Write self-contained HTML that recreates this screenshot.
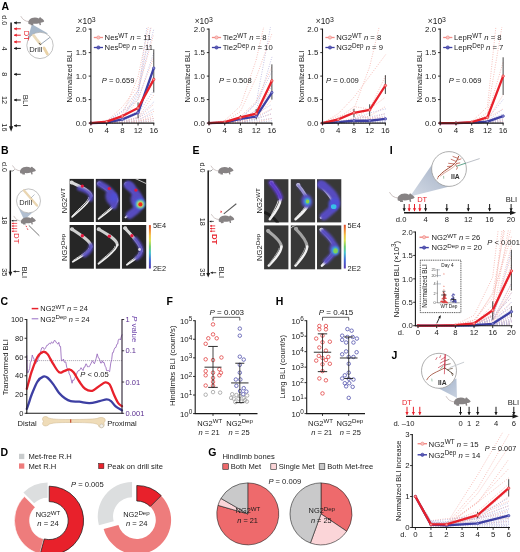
<!DOCTYPE html>
<html><head><meta charset="utf-8"><title>Figure</title>
<style>
html,body{margin:0;padding:0;background:#ffffff;}
body{width:520px;height:552px;overflow:hidden;}
svg{display:block;font-family:"Liberation Sans",sans-serif;}
</style></head><body>
<svg width="520" height="552" viewBox="0 0 520 552">
<rect x="0" y="0" width="520" height="552" fill="#ffffff"/>
<text x="1.6" y="9.6" font-size="10.5" text-anchor="start" fill="#000" font-weight="bold" font-style="normal">A</text>
<line x1="11.10" y1="22.50" x2="11.10" y2="127.50" stroke="#1a1a1a" stroke-width="1.5"/>
<polygon points="11.1,131.8 9,126.2 13.2,126.2" fill="#1a1a1a"/>
<text x="1.7" y="20.3" font-size="7.3" text-anchor="middle" fill="#1a1a1a" font-weight="normal" font-style="normal" transform="rotate(90 1.7 20.3)">d.0</text>
<text x="1.7" y="48.6" font-size="7.3" text-anchor="middle" fill="#1a1a1a" font-weight="normal" font-style="normal" transform="rotate(90 1.7 48.6)">4</text>
<text x="1.7" y="74.3" font-size="7.3" text-anchor="middle" fill="#1a1a1a" font-weight="normal" font-style="normal" transform="rotate(90 1.7 74.3)">8</text>
<text x="1.7" y="100" font-size="7.3" text-anchor="middle" fill="#1a1a1a" font-weight="normal" font-style="normal" transform="rotate(90 1.7 100)">12</text>
<text x="1.7" y="127.4" font-size="7.3" text-anchor="middle" fill="#1a1a1a" font-weight="normal" font-style="normal" transform="rotate(90 1.7 127.4)">16</text>
<line x1="20.80" y1="22.80" x2="14.00" y2="22.80" stroke="#1a1a1a" stroke-width="1.0"/>
<polygon points="14.00,22.80 16.77,21.20 16.77,24.40" fill="#1a1a1a"/>
<line x1="20.80" y1="28.80" x2="14.00" y2="28.80" stroke="#e8212b" stroke-width="1.0"/>
<polygon points="14.00,28.80 16.77,27.20 16.77,30.40" fill="#e8212b"/>
<line x1="20.80" y1="35.20" x2="14.00" y2="35.20" stroke="#e8212b" stroke-width="1.0"/>
<polygon points="14.00,35.20 16.77,33.60 16.77,36.80" fill="#e8212b"/>
<line x1="20.80" y1="41.90" x2="14.00" y2="41.90" stroke="#e8212b" stroke-width="1.0"/>
<polygon points="14.00,41.90 16.77,40.30 16.77,43.50" fill="#e8212b"/>
<line x1="20.80" y1="48.40" x2="14.00" y2="48.40" stroke="#1a1a1a" stroke-width="1.0"/>
<polygon points="14.00,48.40 16.77,46.80 16.77,50.00" fill="#1a1a1a"/>
<line x1="20.80" y1="74.30" x2="14.00" y2="74.30" stroke="#1a1a1a" stroke-width="1.0"/>
<polygon points="14.00,74.30 16.77,72.70 16.77,75.90" fill="#1a1a1a"/>
<line x1="20.80" y1="100.00" x2="14.00" y2="100.00" stroke="#1a1a1a" stroke-width="1.0"/>
<polygon points="14.00,100.00 16.77,98.40 16.77,101.60" fill="#1a1a1a"/>
<line x1="20.80" y1="125.70" x2="14.00" y2="125.70" stroke="#1a1a1a" stroke-width="1.0"/>
<polygon points="14.00,125.70 16.77,124.10 16.77,127.30" fill="#1a1a1a"/>
<text x="23.2" y="100.7" font-size="7.8" text-anchor="middle" fill="#1a1a1a" font-weight="normal" font-style="normal" transform="rotate(90 23.2 100.7)">BLI</text>
<polygon points="32,24.2 27.6,38.5 48,33.6" fill="#9fb2c6" opacity="0.92"/>
<circle cx="40" cy="45.4" r="13.2" fill="#ffffff" stroke="#a8a8a8" stroke-width="0.7"/>
<path d="M33.6,35.4 L37,40 L40.4,44" fill="none" stroke="#ecdcbc" stroke-width="2.8" stroke-linecap="round"/>
<path d="M44,48 L47.4,54" fill="none" stroke="#ead3a8" stroke-width="2.8" stroke-linecap="round"/>
<line x1="40.60" y1="44.40" x2="49.90" y2="37.40" stroke="#6f7f95" stroke-width="0.7"/>
<line x1="40.80" y1="44.60" x2="38.80" y2="43.20" stroke="#444" stroke-width="1.0"/>
<text x="29.2" y="52.1" font-size="7.6" text-anchor="start" fill="#2a2a2a" font-weight="normal" font-style="normal">Drill</text>
<text x="23.6" y="35.7" font-size="7.8" text-anchor="middle" fill="#e8212b" font-weight="normal" font-style="normal" transform="rotate(90 23.6 35.7)">DT</text>
<g transform="translate(27.6,25.3) scale(0.9166666666666666,0.9166666666666666)"><path d="M-7.2,-9.6 C-5.5,-6.5 -3,-4.2 1.6,-4" fill="none" stroke="#b9abaa" stroke-width="0.75" stroke-linecap="round"/><path d="M0.9,-1.8 C0.2,-4.2 1.6,-6.8 4.6,-8 C7.4,-9 10.2,-8.7 12.4,-7.4 C12.8,-8.9 14.4,-9.2 14.9,-7.6 C16.4,-6.8 17.6,-5.6 18.1,-4.5 C17.2,-3.4 15.6,-3 14.2,-2.9 L14.6,-0.3 L13.2,-0.1 L12.6,-2.2 C10.5,-1.6 8,-1.5 6,-1.7 L6.4,-0.1 L3.4,0 L3.2,-1.1 C2.2,-1.1 1.4,-1.3 0.9,-1.8 Z" fill="#878384"/></g>
<clipPath id="c92217959"><rect x="90.9" y="27.1" width="65.88" height="96.5"/></clipPath>
<g clip-path="url(#c92217959)">
<polyline points="90.90,123.10 106.62,122.80 122.34,120.88 138.06,113.56 153.78,90.20" fill="none" stroke="#bcb9e0" stroke-width="0.95" stroke-linejoin="round" stroke-linecap="round" stroke-dasharray="0.1 2.3"/>
<polyline points="90.90,123.10 106.62,121.91 122.34,111.49 138.06,100.14 153.78,52.60" fill="none" stroke="#bcb9e0" stroke-width="0.95" stroke-linejoin="round" stroke-linecap="round" stroke-dasharray="0.1 2.3"/>
<polyline points="90.90,123.10 106.62,123.08 122.34,122.88 138.06,121.33 153.78,116.05" fill="none" stroke="#f6b6b0" stroke-width="0.95" stroke-linejoin="round" stroke-linecap="round" stroke-dasharray="0.1 2.3"/>
<polyline points="90.90,123.10 106.62,122.91 122.34,119.77 138.06,110.58 153.78,76.10" fill="none" stroke="#bcb9e0" stroke-width="0.95" stroke-linejoin="round" stroke-linecap="round" stroke-dasharray="0.1 2.3"/>
<polyline points="90.90,123.10 106.62,121.01 122.34,111.03 138.06,90.24 153.78,29.10" fill="none" stroke="#bcb9e0" stroke-width="0.95" stroke-linejoin="round" stroke-linecap="round" stroke-dasharray="0.1 2.3"/>
<polyline points="90.90,123.10 106.62,123.07 122.34,122.90 138.06,122.43 153.78,120.75" fill="none" stroke="#bcb9e0" stroke-width="0.95" stroke-linejoin="round" stroke-linecap="round" stroke-dasharray="0.1 2.3"/>
<polyline points="90.90,123.10 106.62,122.98 122.34,121.79 138.06,118.02 153.78,109.00" fill="none" stroke="#bcb9e0" stroke-width="0.95" stroke-linejoin="round" stroke-linecap="round" stroke-dasharray="0.1 2.3"/>
<polyline points="90.90,123.10 106.62,121.22 122.34,106.98 138.06,86.08 153.78,15.00" fill="none" stroke="#f6b6b0" stroke-width="0.95" stroke-linejoin="round" stroke-linecap="round" stroke-dasharray="0.1 2.3"/>
<polyline points="90.90,123.10 106.62,123.09 122.34,122.66 138.06,120.11 153.78,111.35" fill="none" stroke="#f6b6b0" stroke-width="0.95" stroke-linejoin="round" stroke-linecap="round" stroke-dasharray="0.1 2.3"/>
<polyline points="90.90,123.10 106.62,123.08 122.34,122.70 138.06,121.89 153.78,118.40" fill="none" stroke="#bcb9e0" stroke-width="0.95" stroke-linejoin="round" stroke-linecap="round" stroke-dasharray="0.1 2.3"/>
<polyline points="90.90,123.10 106.62,123.04 122.34,122.43 138.06,120.77 153.78,118.40" fill="none" stroke="#f6b6b0" stroke-width="0.95" stroke-linejoin="round" stroke-linecap="round" stroke-dasharray="0.1 2.3"/>
<polyline points="90.90,123.10 106.62,123.03 122.34,122.09 138.06,117.18 153.78,94.90" fill="none" stroke="#f6b6b0" stroke-width="0.95" stroke-linejoin="round" stroke-linecap="round" stroke-dasharray="0.1 2.3"/>
<polyline points="90.90,123.10 106.62,122.46 122.34,116.52 138.06,108.40 153.78,80.80" fill="none" stroke="#f6b6b0" stroke-width="0.95" stroke-linejoin="round" stroke-linecap="round" stroke-dasharray="0.1 2.3"/>
<polyline points="90.90,123.10 106.62,123.10 122.34,123.02 138.06,122.52 153.78,120.75" fill="none" stroke="#f6b6b0" stroke-width="0.95" stroke-linejoin="round" stroke-linecap="round" stroke-dasharray="0.1 2.3"/>
<polyline points="90.90,123.10 106.62,122.83 122.34,121.12 138.06,117.17 153.78,101.95" fill="none" stroke="#bcb9e0" stroke-width="0.95" stroke-linejoin="round" stroke-linecap="round" stroke-dasharray="0.1 2.3"/>
<polyline points="90.90,123.10 106.62,122.79 122.34,118.39 138.06,93.33 153.78,10.30" fill="none" stroke="#bcb9e0" stroke-width="0.95" stroke-linejoin="round" stroke-linecap="round" stroke-dasharray="0.1 2.3"/>
<polyline points="90.90,123.10 106.62,123.07 122.34,122.21 138.06,118.06 153.78,104.30" fill="none" stroke="#f6b6b0" stroke-width="0.95" stroke-linejoin="round" stroke-linecap="round" stroke-dasharray="0.1 2.3"/>
<polyline points="90.90,123.10 106.62,122.71 122.34,117.54 138.06,90.35 153.78,33.80" fill="none" stroke="#f6b6b0" stroke-width="0.95" stroke-linejoin="round" stroke-linecap="round" stroke-dasharray="0.1 2.3"/>
<polyline points="90.90,123.10 106.62,121.99 122.34,114.80 138.06,76.87 153.78,0.90" fill="none" stroke="#f6b6b0" stroke-width="0.95" stroke-linejoin="round" stroke-linecap="round" stroke-dasharray="0.1 2.3"/>
<polyline points="90.90,123.10 106.62,123.08 122.34,122.60 138.06,119.92 153.78,113.70" fill="none" stroke="#bcb9e0" stroke-width="0.95" stroke-linejoin="round" stroke-linecap="round" stroke-dasharray="0.1 2.3"/>
<polyline points="90.90,123.10 106.62,122.94 122.34,117.71 138.06,96.35 153.78,-27.30" fill="none" stroke="#bcb9e0" stroke-width="0.95" stroke-linejoin="round" stroke-linecap="round" stroke-dasharray="0.1 2.3"/>
<polyline points="90.90,123.10 106.62,122.84 122.34,120.46 138.06,99.09 153.78,57.30" fill="none" stroke="#f6b6b0" stroke-width="0.95" stroke-linejoin="round" stroke-linecap="round" stroke-dasharray="0.1 2.3"/>
</g>
<line x1="153.78" y1="92.55" x2="153.78" y2="49.31" stroke="#1a1a1a" stroke-width="0.8"/>
<line x1="138.06" y1="118.40" x2="138.06" y2="102.42" stroke="#1a1a1a" stroke-width="0.8"/>
<polyline points="90.90,123.10 106.62,122.63 122.34,119.34 138.06,112.76 153.78,68.11" fill="none" stroke="#3d3fa3" stroke-width="2.3" stroke-linejoin="round" stroke-linecap="round"/>
<circle cx="90.90" cy="123.10" r="1.25" fill="#8a8ad0" stroke="#3d3fa3" stroke-width="0.55"/>
<circle cx="106.62" cy="122.63" r="1.25" fill="#8a8ad0" stroke="#3d3fa3" stroke-width="0.55"/>
<circle cx="122.34" cy="119.34" r="1.25" fill="#8a8ad0" stroke="#3d3fa3" stroke-width="0.55"/>
<circle cx="138.06" cy="112.76" r="1.25" fill="#8a8ad0" stroke="#3d3fa3" stroke-width="0.55"/>
<circle cx="153.78" cy="68.11" r="1.25" fill="#8a8ad0" stroke="#3d3fa3" stroke-width="0.55"/>
<polyline points="90.90,123.10 106.62,121.69 122.34,116.05 138.06,108.06 153.78,79.39" fill="none" stroke="#e8212b" stroke-width="2.3" stroke-linejoin="round" stroke-linecap="round"/>
<circle cx="90.90" cy="123.10" r="1.25" fill="#f8a09c" stroke="#e8212b" stroke-width="0.55"/>
<circle cx="106.62" cy="121.69" r="1.25" fill="#f8a09c" stroke="#e8212b" stroke-width="0.55"/>
<circle cx="122.34" cy="116.05" r="1.25" fill="#f8a09c" stroke="#e8212b" stroke-width="0.55"/>
<circle cx="138.06" cy="108.06" r="1.25" fill="#f8a09c" stroke="#e8212b" stroke-width="0.55"/>
<circle cx="153.78" cy="79.39" r="1.25" fill="#f8a09c" stroke="#e8212b" stroke-width="0.55"/>
<line x1="90.90" y1="28.60" x2="90.90" y2="123.60" stroke="#1a1a1a" stroke-width="1.1"/>
<line x1="90.40" y1="123.10" x2="154.28" y2="123.10" stroke="#1a1a1a" stroke-width="1.1"/>
<line x1="88.70" y1="123.10" x2="90.90" y2="123.10" stroke="#1a1a1a" stroke-width="0.9"/>
<text x="86.7" y="125.94399999999999" font-size="7.9" text-anchor="end" fill="#1a1a1a" font-weight="normal" font-style="normal">0.0</text>
<line x1="88.70" y1="99.60" x2="90.90" y2="99.60" stroke="#1a1a1a" stroke-width="0.9"/>
<text x="86.7" y="102.44399999999999" font-size="7.9" text-anchor="end" fill="#1a1a1a" font-weight="normal" font-style="normal">0.5</text>
<line x1="88.70" y1="76.10" x2="90.90" y2="76.10" stroke="#1a1a1a" stroke-width="0.9"/>
<text x="86.7" y="78.94399999999999" font-size="7.9" text-anchor="end" fill="#1a1a1a" font-weight="normal" font-style="normal">1.0</text>
<line x1="88.70" y1="52.60" x2="90.90" y2="52.60" stroke="#1a1a1a" stroke-width="0.9"/>
<text x="86.7" y="55.443999999999996" font-size="7.9" text-anchor="end" fill="#1a1a1a" font-weight="normal" font-style="normal">1.5</text>
<line x1="88.70" y1="29.10" x2="90.90" y2="29.10" stroke="#1a1a1a" stroke-width="0.9"/>
<text x="86.7" y="31.943999999999996" font-size="7.9" text-anchor="end" fill="#1a1a1a" font-weight="normal" font-style="normal">2.0</text>
<line x1="90.90" y1="123.10" x2="90.90" y2="125.50" stroke="#1a1a1a" stroke-width="0.9"/>
<text x="90.9" y="133.29999999999998" font-size="7.9" text-anchor="middle" fill="#1a1a1a" font-weight="normal" font-style="normal">0</text>
<line x1="106.62" y1="123.10" x2="106.62" y2="125.50" stroke="#1a1a1a" stroke-width="0.9"/>
<text x="106.62" y="133.29999999999998" font-size="7.9" text-anchor="middle" fill="#1a1a1a" font-weight="normal" font-style="normal">4</text>
<line x1="122.34" y1="123.10" x2="122.34" y2="125.50" stroke="#1a1a1a" stroke-width="0.9"/>
<text x="122.34" y="133.29999999999998" font-size="7.9" text-anchor="middle" fill="#1a1a1a" font-weight="normal" font-style="normal">8</text>
<line x1="138.06" y1="123.10" x2="138.06" y2="125.50" stroke="#1a1a1a" stroke-width="0.9"/>
<text x="138.06" y="133.29999999999998" font-size="7.9" text-anchor="middle" fill="#1a1a1a" font-weight="normal" font-style="normal">12</text>
<line x1="153.78" y1="123.10" x2="153.78" y2="125.50" stroke="#1a1a1a" stroke-width="0.9"/>
<text x="153.78" y="133.29999999999998" font-size="7.9" text-anchor="middle" fill="#1a1a1a" font-weight="normal" font-style="normal">16</text>
<text x="72.30000000000001" y="76.6" font-size="7.6" text-anchor="middle" fill="#1a1a1a" font-weight="normal" font-style="normal" transform="rotate(-90 72.30000000000001 76.6)">Normalized BLI</text>
<text x="77.60000000000001" y="24.2" font-size="8.4" text-anchor="start" fill="#1a1a1a" font-weight="normal" font-style="normal">×10<tspan dy="-2.7" font-size="6.9">3</tspan><tspan dy="2.7" font-size="8.4">&#8203;</tspan></text>
<line x1="93.80" y1="37.50" x2="103.00" y2="37.50" stroke="#f28b86" stroke-width="1.3"/>
<circle cx="98.4" cy="37.5" r="1.6" fill="#f6c6c2" stroke="#f28b86" stroke-width="0.7"/>
<text x="104.60000000000001" y="40.2" font-size="7.7" text-anchor="start" fill="#1a1a1a" font-weight="normal" font-style="normal">Nes<tspan dy="-2.5" font-size="6.3">WT</tspan><tspan dy="2.5" font-size="7.7">&#8203;</tspan> <tspan font-style="italic">n</tspan> = 11</text>
<line x1="93.80" y1="47.50" x2="103.00" y2="47.50" stroke="#3d3fa3" stroke-width="1.3"/>
<circle cx="98.4" cy="47.5" r="1.6" fill="#5b5bb5" stroke="#3d3fa3" stroke-width="0.7"/>
<text x="104.60000000000001" y="50.2" font-size="7.7" text-anchor="start" fill="#1a1a1a" font-weight="normal" font-style="normal">Nes<tspan dy="-2.5" font-size="6.3">Dep</tspan><tspan dy="2.5" font-size="7.7">&#8203;</tspan> <tspan font-style="italic">n</tspan> = 11</text>
<text x="101.7" y="83.4" font-size="7.6" text-anchor="start" fill="#1a1a1a" font-weight="normal" font-style="normal"><tspan font-style="italic">P</tspan> = 0.659</text>
<clipPath id="c266818750"><rect x="209.0" y="27.1" width="65.88" height="96.5"/></clipPath>
<g clip-path="url(#c266818750)">
<polyline points="209.00,123.10 224.72,122.89 240.44,118.29 256.16,103.30 271.88,71.40" fill="none" stroke="#bcb9e0" stroke-width="0.95" stroke-linejoin="round" stroke-linecap="round" stroke-dasharray="0.1 2.3"/>
<polyline points="209.00,123.10 224.72,122.88 240.44,120.27 256.16,114.01 271.88,104.30" fill="none" stroke="#bcb9e0" stroke-width="0.95" stroke-linejoin="round" stroke-linecap="round" stroke-dasharray="0.1 2.3"/>
<polyline points="209.00,123.10 224.72,123.05 240.44,121.17 256.16,116.05 271.88,85.50" fill="none" stroke="#bcb9e0" stroke-width="0.95" stroke-linejoin="round" stroke-linecap="round" stroke-dasharray="0.1 2.3"/>
<polyline points="209.00,123.10 224.72,122.85 240.44,120.28 256.16,110.26 271.88,90.20" fill="none" stroke="#f6b6b0" stroke-width="0.95" stroke-linejoin="round" stroke-linecap="round" stroke-dasharray="0.1 2.3"/>
<polyline points="209.00,123.10 224.72,122.98 240.44,121.78 256.16,118.70 271.88,113.70" fill="none" stroke="#f6b6b0" stroke-width="0.95" stroke-linejoin="round" stroke-linecap="round" stroke-dasharray="0.1 2.3"/>
<polyline points="209.00,123.10 224.72,122.96 240.44,122.14 256.16,119.18 271.88,113.70" fill="none" stroke="#bcb9e0" stroke-width="0.95" stroke-linejoin="round" stroke-linecap="round" stroke-dasharray="0.1 2.3"/>
<polyline points="209.00,123.10 224.72,122.96 240.44,121.05 256.16,113.95 271.88,94.90" fill="none" stroke="#bcb9e0" stroke-width="0.95" stroke-linejoin="round" stroke-linecap="round" stroke-dasharray="0.1 2.3"/>
<polyline points="209.00,123.10 224.72,123.10 240.44,123.04 256.16,122.52 271.88,120.75" fill="none" stroke="#bcb9e0" stroke-width="0.95" stroke-linejoin="round" stroke-linecap="round" stroke-dasharray="0.1 2.3"/>
<polyline points="209.00,123.10 224.72,122.96 240.44,122.30 256.16,120.53 271.88,118.40" fill="none" stroke="#bcb9e0" stroke-width="0.95" stroke-linejoin="round" stroke-linecap="round" stroke-dasharray="0.1 2.3"/>
<polyline points="209.00,123.10 224.72,123.06 240.44,119.96 256.16,103.03 271.88,19.70" fill="none" stroke="#bcb9e0" stroke-width="0.95" stroke-linejoin="round" stroke-linecap="round" stroke-dasharray="0.1 2.3"/>
<polyline points="209.00,123.10 224.72,122.00 240.44,111.59 256.16,77.54 271.88,33.80" fill="none" stroke="#f6b6b0" stroke-width="0.95" stroke-linejoin="round" stroke-linecap="round" stroke-dasharray="0.1 2.3"/>
<polyline points="209.00,123.10 224.72,123.03 240.44,120.66 256.16,110.02 271.88,57.30" fill="none" stroke="#bcb9e0" stroke-width="0.95" stroke-linejoin="round" stroke-linecap="round" stroke-dasharray="0.1 2.3"/>
<polyline points="209.00,123.10 224.72,123.10 240.44,122.98 256.16,122.18 271.88,118.40" fill="none" stroke="#f6b6b0" stroke-width="0.95" stroke-linejoin="round" stroke-linecap="round" stroke-dasharray="0.1 2.3"/>
<polyline points="209.00,123.10 224.72,123.07 240.44,122.65 256.16,118.61 271.88,109.00" fill="none" stroke="#bcb9e0" stroke-width="0.95" stroke-linejoin="round" stroke-linecap="round" stroke-dasharray="0.1 2.3"/>
<polyline points="209.00,123.10 224.72,122.71 240.44,116.55 256.16,101.53 271.88,66.70" fill="none" stroke="#f6b6b0" stroke-width="0.95" stroke-linejoin="round" stroke-linecap="round" stroke-dasharray="0.1 2.3"/>
<polyline points="209.00,123.10 224.72,123.07 240.44,122.38 256.16,117.53 271.88,99.60" fill="none" stroke="#f6b6b0" stroke-width="0.95" stroke-linejoin="round" stroke-linecap="round" stroke-dasharray="0.1 2.3"/>
<polyline points="209.00,123.10 224.72,120.53 240.44,106.11 256.16,60.02 271.88,-8.50" fill="none" stroke="#f6b6b0" stroke-width="0.95" stroke-linejoin="round" stroke-linecap="round" stroke-dasharray="0.1 2.3"/>
<polyline points="209.00,123.10 224.72,122.88 240.44,120.97 256.16,116.31 271.88,109.00" fill="none" stroke="#f6b6b0" stroke-width="0.95" stroke-linejoin="round" stroke-linecap="round" stroke-dasharray="0.1 2.3"/>
</g>
<line x1="271.88" y1="99.60" x2="271.88" y2="64.35" stroke="#1a1a1a" stroke-width="0.8"/>
<line x1="256.16" y1="119.34" x2="256.16" y2="109.00" stroke="#1a1a1a" stroke-width="0.8"/>
<line x1="240.44" y1="120.28" x2="240.44" y2="115.11" stroke="#1a1a1a" stroke-width="0.8"/>
<polyline points="209.00,123.10 224.72,122.63 240.44,118.87 256.16,116.52 271.88,92.55" fill="none" stroke="#3d3fa3" stroke-width="2.3" stroke-linejoin="round" stroke-linecap="round"/>
<circle cx="209.00" cy="123.10" r="1.25" fill="#8a8ad0" stroke="#3d3fa3" stroke-width="0.55"/>
<circle cx="224.72" cy="122.63" r="1.25" fill="#8a8ad0" stroke="#3d3fa3" stroke-width="0.55"/>
<circle cx="240.44" cy="118.87" r="1.25" fill="#8a8ad0" stroke="#3d3fa3" stroke-width="0.55"/>
<circle cx="256.16" cy="116.52" r="1.25" fill="#8a8ad0" stroke="#3d3fa3" stroke-width="0.55"/>
<circle cx="271.88" cy="92.55" r="1.25" fill="#8a8ad0" stroke="#3d3fa3" stroke-width="0.55"/>
<polyline points="209.00,123.10 224.72,122.16 240.44,117.46 256.16,113.70 271.88,80.80" fill="none" stroke="#e8212b" stroke-width="2.3" stroke-linejoin="round" stroke-linecap="round"/>
<circle cx="209.00" cy="123.10" r="1.25" fill="#f8a09c" stroke="#e8212b" stroke-width="0.55"/>
<circle cx="224.72" cy="122.16" r="1.25" fill="#f8a09c" stroke="#e8212b" stroke-width="0.55"/>
<circle cx="240.44" cy="117.46" r="1.25" fill="#f8a09c" stroke="#e8212b" stroke-width="0.55"/>
<circle cx="256.16" cy="113.70" r="1.25" fill="#f8a09c" stroke="#e8212b" stroke-width="0.55"/>
<circle cx="271.88" cy="80.80" r="1.25" fill="#f8a09c" stroke="#e8212b" stroke-width="0.55"/>
<line x1="209.00" y1="28.60" x2="209.00" y2="123.60" stroke="#1a1a1a" stroke-width="1.1"/>
<line x1="208.50" y1="123.10" x2="272.38" y2="123.10" stroke="#1a1a1a" stroke-width="1.1"/>
<line x1="206.80" y1="123.10" x2="209.00" y2="123.10" stroke="#1a1a1a" stroke-width="0.9"/>
<text x="204.8" y="125.94399999999999" font-size="7.9" text-anchor="end" fill="#1a1a1a" font-weight="normal" font-style="normal">0.0</text>
<line x1="206.80" y1="99.60" x2="209.00" y2="99.60" stroke="#1a1a1a" stroke-width="0.9"/>
<text x="204.8" y="102.44399999999999" font-size="7.9" text-anchor="end" fill="#1a1a1a" font-weight="normal" font-style="normal">0.5</text>
<line x1="206.80" y1="76.10" x2="209.00" y2="76.10" stroke="#1a1a1a" stroke-width="0.9"/>
<text x="204.8" y="78.94399999999999" font-size="7.9" text-anchor="end" fill="#1a1a1a" font-weight="normal" font-style="normal">1.0</text>
<line x1="206.80" y1="52.60" x2="209.00" y2="52.60" stroke="#1a1a1a" stroke-width="0.9"/>
<text x="204.8" y="55.443999999999996" font-size="7.9" text-anchor="end" fill="#1a1a1a" font-weight="normal" font-style="normal">1.5</text>
<line x1="206.80" y1="29.10" x2="209.00" y2="29.10" stroke="#1a1a1a" stroke-width="0.9"/>
<text x="204.8" y="31.943999999999996" font-size="7.9" text-anchor="end" fill="#1a1a1a" font-weight="normal" font-style="normal">2.0</text>
<line x1="209.00" y1="123.10" x2="209.00" y2="125.50" stroke="#1a1a1a" stroke-width="0.9"/>
<text x="209.0" y="133.29999999999998" font-size="7.9" text-anchor="middle" fill="#1a1a1a" font-weight="normal" font-style="normal">0</text>
<line x1="224.72" y1="123.10" x2="224.72" y2="125.50" stroke="#1a1a1a" stroke-width="0.9"/>
<text x="224.72" y="133.29999999999998" font-size="7.9" text-anchor="middle" fill="#1a1a1a" font-weight="normal" font-style="normal">4</text>
<line x1="240.44" y1="123.10" x2="240.44" y2="125.50" stroke="#1a1a1a" stroke-width="0.9"/>
<text x="240.44" y="133.29999999999998" font-size="7.9" text-anchor="middle" fill="#1a1a1a" font-weight="normal" font-style="normal">8</text>
<line x1="256.16" y1="123.10" x2="256.16" y2="125.50" stroke="#1a1a1a" stroke-width="0.9"/>
<text x="256.16" y="133.29999999999998" font-size="7.9" text-anchor="middle" fill="#1a1a1a" font-weight="normal" font-style="normal">12</text>
<line x1="271.88" y1="123.10" x2="271.88" y2="125.50" stroke="#1a1a1a" stroke-width="0.9"/>
<text x="271.88" y="133.29999999999998" font-size="7.9" text-anchor="middle" fill="#1a1a1a" font-weight="normal" font-style="normal">16</text>
<text x="190.4" y="76.6" font-size="7.6" text-anchor="middle" fill="#1a1a1a" font-weight="normal" font-style="normal" transform="rotate(-90 190.4 76.6)">Normalized BLI</text>
<text x="194.7" y="24.2" font-size="8.4" text-anchor="start" fill="#1a1a1a" font-weight="normal" font-style="normal">×10<tspan dy="-2.7" font-size="6.9">3</tspan><tspan dy="2.7" font-size="8.4">&#8203;</tspan></text>
<line x1="211.90" y1="37.50" x2="221.10" y2="37.50" stroke="#f28b86" stroke-width="1.3"/>
<circle cx="216.5" cy="37.5" r="1.6" fill="#f6c6c2" stroke="#f28b86" stroke-width="0.7"/>
<text x="222.7" y="40.2" font-size="7.7" text-anchor="start" fill="#1a1a1a" font-weight="normal" font-style="normal">Tie2<tspan dy="-2.5" font-size="6.3">WT</tspan><tspan dy="2.5" font-size="7.7">&#8203;</tspan> <tspan font-style="italic">n</tspan> = 8</text>
<line x1="211.90" y1="47.50" x2="221.10" y2="47.50" stroke="#3d3fa3" stroke-width="1.3"/>
<circle cx="216.5" cy="47.5" r="1.6" fill="#5b5bb5" stroke="#3d3fa3" stroke-width="0.7"/>
<text x="222.7" y="50.2" font-size="7.7" text-anchor="start" fill="#1a1a1a" font-weight="normal" font-style="normal">Tie2<tspan dy="-2.5" font-size="6.3">Dep</tspan><tspan dy="2.5" font-size="7.7">&#8203;</tspan> <tspan font-style="italic">n</tspan> = 10</text>
<text x="219.0" y="83.4" font-size="7.6" text-anchor="start" fill="#1a1a1a" font-weight="normal" font-style="normal"><tspan font-style="italic">P</tspan> = 0.508</text>
<clipPath id="c326680107"><rect x="322.5" y="27.1" width="65.88" height="96.5"/></clipPath>
<g clip-path="url(#c326680107)">
<polyline points="322.50,123.10 338.22,123.10 353.94,122.16 369.66,120.75 385.38,118.40" fill="none" stroke="#f6b6b0" stroke-width="0.95" stroke-linejoin="round" stroke-linecap="round" stroke-dasharray="0.1 2.3"/>
<polyline points="322.50,123.10 338.22,123.02 353.94,122.77 369.66,121.81 385.38,120.75" fill="none" stroke="#bcb9e0" stroke-width="0.95" stroke-linejoin="round" stroke-linecap="round" stroke-dasharray="0.1 2.3"/>
<polyline points="322.50,123.10 338.22,122.63 353.94,120.75 369.66,118.40 385.38,113.70" fill="none" stroke="#f6b6b0" stroke-width="0.95" stroke-linejoin="round" stroke-linecap="round" stroke-dasharray="0.1 2.3"/>
<polyline points="322.50,123.10 338.22,123.03 353.94,122.86 369.66,122.38 385.38,122.16" fill="none" stroke="#bcb9e0" stroke-width="0.95" stroke-linejoin="round" stroke-linecap="round" stroke-dasharray="0.1 2.3"/>
<polyline points="322.50,123.10 338.22,123.03 353.94,122.59 369.66,121.45 385.38,118.40" fill="none" stroke="#bcb9e0" stroke-width="0.95" stroke-linejoin="round" stroke-linecap="round" stroke-dasharray="0.1 2.3"/>
<polyline points="322.50,123.10 338.22,121.85 353.94,118.70 369.66,116.87 385.38,113.70" fill="none" stroke="#bcb9e0" stroke-width="0.95" stroke-linejoin="round" stroke-linecap="round" stroke-dasharray="0.1 2.3"/>
<polyline points="322.50,123.10 338.22,123.03 353.94,122.76 369.66,122.56 385.38,121.69" fill="none" stroke="#bcb9e0" stroke-width="0.95" stroke-linejoin="round" stroke-linecap="round" stroke-dasharray="0.1 2.3"/>
<polyline points="322.50,123.10 338.22,122.16 353.94,118.40 369.66,109.00 385.38,76.10" fill="none" stroke="#f6b6b0" stroke-width="0.95" stroke-linejoin="round" stroke-linecap="round" stroke-dasharray="0.1 2.3"/>
<polyline points="322.50,123.10 338.22,122.69 353.94,121.32 369.66,119.16 385.38,116.05" fill="none" stroke="#bcb9e0" stroke-width="0.95" stroke-linejoin="round" stroke-linecap="round" stroke-dasharray="0.1 2.3"/>
<polyline points="322.50,123.10 338.22,122.16 353.94,119.34 369.66,116.05 385.38,106.65" fill="none" stroke="#f6b6b0" stroke-width="0.95" stroke-linejoin="round" stroke-linecap="round" stroke-dasharray="0.1 2.3"/>
<polyline points="322.50,123.10 338.22,120.75 353.94,109.00 369.66,66.70 385.38,0.90" fill="none" stroke="#f6b6b0" stroke-width="0.95" stroke-linejoin="round" stroke-linecap="round" stroke-dasharray="0.1 2.3"/>
<polyline points="322.50,123.10 338.22,113.70 353.94,97.25 369.66,76.10 385.38,54.95" fill="none" stroke="#f6b6b0" stroke-width="0.95" stroke-linejoin="round" stroke-linecap="round" stroke-dasharray="0.1 2.3"/>
<polyline points="322.50,123.10 338.22,122.96 353.94,122.28 369.66,120.94 385.38,119.34" fill="none" stroke="#bcb9e0" stroke-width="0.95" stroke-linejoin="round" stroke-linecap="round" stroke-dasharray="0.1 2.3"/>
<polyline points="322.50,123.10 338.22,123.05 353.94,122.96 369.66,122.82 385.38,122.63" fill="none" stroke="#bcb9e0" stroke-width="0.95" stroke-linejoin="round" stroke-linecap="round" stroke-dasharray="0.1 2.3"/>
<polyline points="322.50,123.10 338.22,118.40 353.94,106.65 369.66,109.00 385.38,97.25" fill="none" stroke="#f6b6b0" stroke-width="0.95" stroke-linejoin="round" stroke-linecap="round" stroke-dasharray="0.1 2.3"/>
<polyline points="322.50,123.10 338.22,116.05 353.94,113.70 369.66,118.40 385.38,117.46" fill="none" stroke="#f6b6b0" stroke-width="0.95" stroke-linejoin="round" stroke-linecap="round" stroke-dasharray="0.1 2.3"/>
<polyline points="322.50,123.10 338.22,121.69 353.94,119.43 369.66,112.96 385.38,109.00" fill="none" stroke="#bcb9e0" stroke-width="0.95" stroke-linejoin="round" stroke-linecap="round" stroke-dasharray="0.1 2.3"/>
</g>
<line x1="385.38" y1="93.96" x2="385.38" y2="75.16" stroke="#1a1a1a" stroke-width="0.8"/>
<line x1="369.66" y1="116.05" x2="369.66" y2="104.30" stroke="#1a1a1a" stroke-width="0.8"/>
<line x1="353.94" y1="117.46" x2="353.94" y2="109.00" stroke="#1a1a1a" stroke-width="0.8"/>
<polyline points="322.50,123.10 338.22,122.16 353.94,120.75 369.66,120.75 385.38,118.87" fill="none" stroke="#3d3fa3" stroke-width="2.3" stroke-linejoin="round" stroke-linecap="round"/>
<circle cx="322.50" cy="123.10" r="1.25" fill="#8a8ad0" stroke="#3d3fa3" stroke-width="0.55"/>
<circle cx="338.22" cy="122.16" r="1.25" fill="#8a8ad0" stroke="#3d3fa3" stroke-width="0.55"/>
<circle cx="353.94" cy="120.75" r="1.25" fill="#8a8ad0" stroke="#3d3fa3" stroke-width="0.55"/>
<circle cx="369.66" cy="120.75" r="1.25" fill="#8a8ad0" stroke="#3d3fa3" stroke-width="0.55"/>
<circle cx="385.38" cy="118.87" r="1.25" fill="#8a8ad0" stroke="#3d3fa3" stroke-width="0.55"/>
<polyline points="322.50,123.10 338.22,119.34 353.94,112.76 369.66,109.94 385.38,85.50" fill="none" stroke="#e8212b" stroke-width="2.3" stroke-linejoin="round" stroke-linecap="round"/>
<circle cx="322.50" cy="123.10" r="1.25" fill="#f8a09c" stroke="#e8212b" stroke-width="0.55"/>
<circle cx="338.22" cy="119.34" r="1.25" fill="#f8a09c" stroke="#e8212b" stroke-width="0.55"/>
<circle cx="353.94" cy="112.76" r="1.25" fill="#f8a09c" stroke="#e8212b" stroke-width="0.55"/>
<circle cx="369.66" cy="109.94" r="1.25" fill="#f8a09c" stroke="#e8212b" stroke-width="0.55"/>
<circle cx="385.38" cy="85.50" r="1.25" fill="#f8a09c" stroke="#e8212b" stroke-width="0.55"/>
<line x1="322.50" y1="28.60" x2="322.50" y2="123.60" stroke="#1a1a1a" stroke-width="1.1"/>
<line x1="322.00" y1="123.10" x2="385.88" y2="123.10" stroke="#1a1a1a" stroke-width="1.1"/>
<line x1="320.30" y1="123.10" x2="322.50" y2="123.10" stroke="#1a1a1a" stroke-width="0.9"/>
<text x="318.3" y="125.94399999999999" font-size="7.9" text-anchor="end" fill="#1a1a1a" font-weight="normal" font-style="normal">0.0</text>
<line x1="320.30" y1="99.60" x2="322.50" y2="99.60" stroke="#1a1a1a" stroke-width="0.9"/>
<text x="318.3" y="102.44399999999999" font-size="7.9" text-anchor="end" fill="#1a1a1a" font-weight="normal" font-style="normal">0.5</text>
<line x1="320.30" y1="76.10" x2="322.50" y2="76.10" stroke="#1a1a1a" stroke-width="0.9"/>
<text x="318.3" y="78.94399999999999" font-size="7.9" text-anchor="end" fill="#1a1a1a" font-weight="normal" font-style="normal">1.0</text>
<line x1="320.30" y1="52.60" x2="322.50" y2="52.60" stroke="#1a1a1a" stroke-width="0.9"/>
<text x="318.3" y="55.443999999999996" font-size="7.9" text-anchor="end" fill="#1a1a1a" font-weight="normal" font-style="normal">1.5</text>
<line x1="320.30" y1="29.10" x2="322.50" y2="29.10" stroke="#1a1a1a" stroke-width="0.9"/>
<text x="318.3" y="31.943999999999996" font-size="7.9" text-anchor="end" fill="#1a1a1a" font-weight="normal" font-style="normal">2.0</text>
<line x1="322.50" y1="123.10" x2="322.50" y2="125.50" stroke="#1a1a1a" stroke-width="0.9"/>
<text x="322.5" y="133.29999999999998" font-size="7.9" text-anchor="middle" fill="#1a1a1a" font-weight="normal" font-style="normal">0</text>
<line x1="338.22" y1="123.10" x2="338.22" y2="125.50" stroke="#1a1a1a" stroke-width="0.9"/>
<text x="338.22" y="133.29999999999998" font-size="7.9" text-anchor="middle" fill="#1a1a1a" font-weight="normal" font-style="normal">4</text>
<line x1="353.94" y1="123.10" x2="353.94" y2="125.50" stroke="#1a1a1a" stroke-width="0.9"/>
<text x="353.94" y="133.29999999999998" font-size="7.9" text-anchor="middle" fill="#1a1a1a" font-weight="normal" font-style="normal">8</text>
<line x1="369.66" y1="123.10" x2="369.66" y2="125.50" stroke="#1a1a1a" stroke-width="0.9"/>
<text x="369.66" y="133.29999999999998" font-size="7.9" text-anchor="middle" fill="#1a1a1a" font-weight="normal" font-style="normal">12</text>
<line x1="385.38" y1="123.10" x2="385.38" y2="125.50" stroke="#1a1a1a" stroke-width="0.9"/>
<text x="385.38" y="133.29999999999998" font-size="7.9" text-anchor="middle" fill="#1a1a1a" font-weight="normal" font-style="normal">16</text>
<text x="303.9" y="76.6" font-size="7.6" text-anchor="middle" fill="#1a1a1a" font-weight="normal" font-style="normal" transform="rotate(-90 303.9 76.6)">Normalized BLI</text>
<text x="315.8" y="24.2" font-size="8.4" text-anchor="start" fill="#1a1a1a" font-weight="normal" font-style="normal">×10<tspan dy="-2.7" font-size="6.9">3</tspan><tspan dy="2.7" font-size="8.4">&#8203;</tspan></text>
<line x1="325.40" y1="37.50" x2="334.60" y2="37.50" stroke="#f28b86" stroke-width="1.3"/>
<circle cx="330.0" cy="37.5" r="1.6" fill="#f6c6c2" stroke="#f28b86" stroke-width="0.7"/>
<text x="336.2" y="40.2" font-size="7.7" text-anchor="start" fill="#1a1a1a" font-weight="normal" font-style="normal">NG2<tspan dy="-2.5" font-size="6.3">WT</tspan><tspan dy="2.5" font-size="7.7">&#8203;</tspan> <tspan font-style="italic">n</tspan> = 8</text>
<line x1="325.40" y1="47.50" x2="334.60" y2="47.50" stroke="#3d3fa3" stroke-width="1.3"/>
<circle cx="330.0" cy="47.5" r="1.6" fill="#5b5bb5" stroke="#3d3fa3" stroke-width="0.7"/>
<text x="336.2" y="50.2" font-size="7.7" text-anchor="start" fill="#1a1a1a" font-weight="normal" font-style="normal">NG2<tspan dy="-2.5" font-size="6.3">Dep</tspan><tspan dy="2.5" font-size="7.7">&#8203;</tspan> <tspan font-style="italic">n</tspan> = 9</text>
<text x="326.1" y="83.4" font-size="7.6" text-anchor="start" fill="#1a1a1a" font-weight="normal" font-style="normal"><tspan font-style="italic">P</tspan> = 0.009</text>
<clipPath id="c248446255"><rect x="440.25" y="27.1" width="65.88" height="96.5"/></clipPath>
<g clip-path="url(#c248446255)">
<polyline points="440.25,123.10 455.97,123.10 471.69,123.09 487.41,122.99 503.13,121.69" fill="none" stroke="#bcb9e0" stroke-width="0.95" stroke-linejoin="round" stroke-linecap="round" stroke-dasharray="0.1 2.3"/>
<polyline points="440.25,123.10 455.97,123.09 471.69,122.73 487.41,121.37 503.13,116.05" fill="none" stroke="#f6b6b0" stroke-width="0.95" stroke-linejoin="round" stroke-linecap="round" stroke-dasharray="0.1 2.3"/>
<polyline points="440.25,123.10 455.97,123.09 471.69,121.76 487.41,106.76 503.13,-41.40" fill="none" stroke="#f6b6b0" stroke-width="0.95" stroke-linejoin="round" stroke-linecap="round" stroke-dasharray="0.1 2.3"/>
<polyline points="440.25,123.10 455.97,123.09 471.69,122.95 487.41,122.20 503.13,119.34" fill="none" stroke="#f6b6b0" stroke-width="0.95" stroke-linejoin="round" stroke-linecap="round" stroke-dasharray="0.1 2.3"/>
<polyline points="440.25,123.10 455.97,123.10 471.69,123.04 487.41,122.58 503.13,121.22" fill="none" stroke="#f6b6b0" stroke-width="0.95" stroke-linejoin="round" stroke-linecap="round" stroke-dasharray="0.1 2.3"/>
<polyline points="440.25,123.10 455.97,123.08 471.69,122.64 487.41,120.73 503.13,113.70" fill="none" stroke="#bcb9e0" stroke-width="0.95" stroke-linejoin="round" stroke-linecap="round" stroke-dasharray="0.1 2.3"/>
<polyline points="440.25,123.10 455.97,123.10 471.69,123.07 487.41,122.57 503.13,118.40" fill="none" stroke="#bcb9e0" stroke-width="0.95" stroke-linejoin="round" stroke-linecap="round" stroke-dasharray="0.1 2.3"/>
<polyline points="440.25,123.10 455.97,123.06 471.69,122.28 487.41,117.85 503.13,109.00" fill="none" stroke="#f6b6b0" stroke-width="0.95" stroke-linejoin="round" stroke-linecap="round" stroke-dasharray="0.1 2.3"/>
<polyline points="440.25,123.10 455.97,123.10 471.69,122.88 487.41,118.89 503.13,99.60" fill="none" stroke="#bcb9e0" stroke-width="0.95" stroke-linejoin="round" stroke-linecap="round" stroke-dasharray="0.1 2.3"/>
<polyline points="440.25,123.10 455.97,123.10 471.69,122.62 487.41,115.27 503.13,62.00" fill="none" stroke="#f6b6b0" stroke-width="0.95" stroke-linejoin="round" stroke-linecap="round" stroke-dasharray="0.1 2.3"/>
<polyline points="440.25,123.10 455.97,123.10 471.69,122.98 487.41,122.46 503.13,120.28" fill="none" stroke="#bcb9e0" stroke-width="0.95" stroke-linejoin="round" stroke-linecap="round" stroke-dasharray="0.1 2.3"/>
<polyline points="440.25,123.10 455.97,123.10 471.69,123.03 487.41,120.96 503.13,109.00" fill="none" stroke="#bcb9e0" stroke-width="0.95" stroke-linejoin="round" stroke-linecap="round" stroke-dasharray="0.1 2.3"/>
<polyline points="440.25,123.10 455.97,123.10 471.69,122.63 487.41,112.68 503.13,19.70" fill="none" stroke="#f6b6b0" stroke-width="0.95" stroke-linejoin="round" stroke-linecap="round" stroke-dasharray="0.1 2.3"/>
<polyline points="440.25,123.10 455.97,123.10 471.69,122.93 487.41,119.77 503.13,94.90" fill="none" stroke="#f6b6b0" stroke-width="0.95" stroke-linejoin="round" stroke-linecap="round" stroke-dasharray="0.1 2.3"/>
<polyline points="440.25,123.10 455.97,123.10 471.69,123.09 487.41,122.98 503.13,122.63" fill="none" stroke="#bcb9e0" stroke-width="0.95" stroke-linejoin="round" stroke-linecap="round" stroke-dasharray="0.1 2.3"/>
</g>
<line x1="503.13" y1="94.90" x2="503.13" y2="57.30" stroke="#1a1a1a" stroke-width="0.8"/>
<polyline points="440.25,123.10 455.97,123.10 471.69,122.63 487.41,121.69 503.13,116.05" fill="none" stroke="#3d3fa3" stroke-width="2.3" stroke-linejoin="round" stroke-linecap="round"/>
<circle cx="440.25" cy="123.10" r="1.25" fill="#8a8ad0" stroke="#3d3fa3" stroke-width="0.55"/>
<circle cx="455.97" cy="123.10" r="1.25" fill="#8a8ad0" stroke="#3d3fa3" stroke-width="0.55"/>
<circle cx="471.69" cy="122.63" r="1.25" fill="#8a8ad0" stroke="#3d3fa3" stroke-width="0.55"/>
<circle cx="487.41" cy="121.69" r="1.25" fill="#8a8ad0" stroke="#3d3fa3" stroke-width="0.55"/>
<circle cx="503.13" cy="116.05" r="1.25" fill="#8a8ad0" stroke="#3d3fa3" stroke-width="0.55"/>
<polyline points="440.25,123.10 455.97,123.10 471.69,122.16 487.41,117.46 503.13,76.10" fill="none" stroke="#e8212b" stroke-width="2.3" stroke-linejoin="round" stroke-linecap="round"/>
<circle cx="440.25" cy="123.10" r="1.25" fill="#f8a09c" stroke="#e8212b" stroke-width="0.55"/>
<circle cx="455.97" cy="123.10" r="1.25" fill="#f8a09c" stroke="#e8212b" stroke-width="0.55"/>
<circle cx="471.69" cy="122.16" r="1.25" fill="#f8a09c" stroke="#e8212b" stroke-width="0.55"/>
<circle cx="487.41" cy="117.46" r="1.25" fill="#f8a09c" stroke="#e8212b" stroke-width="0.55"/>
<circle cx="503.13" cy="76.10" r="1.25" fill="#f8a09c" stroke="#e8212b" stroke-width="0.55"/>
<line x1="440.25" y1="28.60" x2="440.25" y2="123.60" stroke="#1a1a1a" stroke-width="1.1"/>
<line x1="439.75" y1="123.10" x2="503.63" y2="123.10" stroke="#1a1a1a" stroke-width="1.1"/>
<line x1="438.05" y1="123.10" x2="440.25" y2="123.10" stroke="#1a1a1a" stroke-width="0.9"/>
<text x="436.05" y="125.94399999999999" font-size="7.9" text-anchor="end" fill="#1a1a1a" font-weight="normal" font-style="normal">0.0</text>
<line x1="438.05" y1="99.60" x2="440.25" y2="99.60" stroke="#1a1a1a" stroke-width="0.9"/>
<text x="436.05" y="102.44399999999999" font-size="7.9" text-anchor="end" fill="#1a1a1a" font-weight="normal" font-style="normal">0.5</text>
<line x1="438.05" y1="76.10" x2="440.25" y2="76.10" stroke="#1a1a1a" stroke-width="0.9"/>
<text x="436.05" y="78.94399999999999" font-size="7.9" text-anchor="end" fill="#1a1a1a" font-weight="normal" font-style="normal">1.0</text>
<line x1="438.05" y1="52.60" x2="440.25" y2="52.60" stroke="#1a1a1a" stroke-width="0.9"/>
<text x="436.05" y="55.443999999999996" font-size="7.9" text-anchor="end" fill="#1a1a1a" font-weight="normal" font-style="normal">1.5</text>
<line x1="438.05" y1="29.10" x2="440.25" y2="29.10" stroke="#1a1a1a" stroke-width="0.9"/>
<text x="436.05" y="31.943999999999996" font-size="7.9" text-anchor="end" fill="#1a1a1a" font-weight="normal" font-style="normal">2.0</text>
<line x1="440.25" y1="123.10" x2="440.25" y2="125.50" stroke="#1a1a1a" stroke-width="0.9"/>
<text x="440.25" y="133.29999999999998" font-size="7.9" text-anchor="middle" fill="#1a1a1a" font-weight="normal" font-style="normal">0</text>
<line x1="455.97" y1="123.10" x2="455.97" y2="125.50" stroke="#1a1a1a" stroke-width="0.9"/>
<text x="455.97" y="133.29999999999998" font-size="7.9" text-anchor="middle" fill="#1a1a1a" font-weight="normal" font-style="normal">4</text>
<line x1="471.69" y1="123.10" x2="471.69" y2="125.50" stroke="#1a1a1a" stroke-width="0.9"/>
<text x="471.69" y="133.29999999999998" font-size="7.9" text-anchor="middle" fill="#1a1a1a" font-weight="normal" font-style="normal">8</text>
<line x1="487.41" y1="123.10" x2="487.41" y2="125.50" stroke="#1a1a1a" stroke-width="0.9"/>
<text x="487.41" y="133.29999999999998" font-size="7.9" text-anchor="middle" fill="#1a1a1a" font-weight="normal" font-style="normal">12</text>
<line x1="503.13" y1="123.10" x2="503.13" y2="125.50" stroke="#1a1a1a" stroke-width="0.9"/>
<text x="503.13" y="133.29999999999998" font-size="7.9" text-anchor="middle" fill="#1a1a1a" font-weight="normal" font-style="normal">16</text>
<text x="421.65" y="76.6" font-size="7.6" text-anchor="middle" fill="#1a1a1a" font-weight="normal" font-style="normal" transform="rotate(-90 421.65 76.6)">Normalized BLI</text>
<text x="427.85" y="24.2" font-size="8.4" text-anchor="start" fill="#1a1a1a" font-weight="normal" font-style="normal">×10<tspan dy="-2.7" font-size="6.9">3</tspan><tspan dy="2.7" font-size="8.4">&#8203;</tspan></text>
<line x1="443.15" y1="37.50" x2="452.35" y2="37.50" stroke="#f28b86" stroke-width="1.3"/>
<circle cx="447.75" cy="37.5" r="1.6" fill="#f6c6c2" stroke="#f28b86" stroke-width="0.7"/>
<text x="453.95" y="40.2" font-size="7.7" text-anchor="start" fill="#1a1a1a" font-weight="normal" font-style="normal">LepR<tspan dy="-2.5" font-size="6.3">WT</tspan><tspan dy="2.5" font-size="7.7">&#8203;</tspan> <tspan font-style="italic">n</tspan> = 8</text>
<line x1="443.15" y1="47.50" x2="452.35" y2="47.50" stroke="#3d3fa3" stroke-width="1.3"/>
<circle cx="447.75" cy="47.5" r="1.6" fill="#5b5bb5" stroke="#3d3fa3" stroke-width="0.7"/>
<text x="453.95" y="50.2" font-size="7.7" text-anchor="start" fill="#1a1a1a" font-weight="normal" font-style="normal">LepR<tspan dy="-2.5" font-size="6.3">Dep</tspan><tspan dy="2.5" font-size="7.7">&#8203;</tspan> <tspan font-style="italic">n</tspan> = 7</text>
<text x="448.65" y="83.4" font-size="7.6" text-anchor="start" fill="#1a1a1a" font-weight="normal" font-style="normal"><tspan font-style="italic">P</tspan> = 0.069</text>
<defs><filter id="bl1" x="-30%" y="-30%" width="160%" height="160%"><feGaussianBlur stdDeviation="0.55"/></filter><filter id="bl2" x="-50%" y="-50%" width="200%" height="200%"><feGaussianBlur stdDeviation="1.1"/></filter><linearGradient id="cbar" x1="0" y1="0" x2="0" y2="1"><stop offset="0" stop-color="#d8482c"/><stop offset="0.1" stop-color="#ee7a30"/><stop offset="0.24" stop-color="#f2c040"/><stop offset="0.36" stop-color="#d4e050"/><stop offset="0.5" stop-color="#6ccc66"/><stop offset="0.64" stop-color="#40c0cc"/><stop offset="0.8" stop-color="#4068d8"/><stop offset="1" stop-color="#5638b0"/></linearGradient></defs>
<text x="1.0" y="153.7" font-size="10.5" text-anchor="start" fill="#000" font-weight="bold" font-style="normal">B</text>
<line x1="10.30" y1="170.50" x2="10.30" y2="272.00" stroke="#1a1a1a" stroke-width="1.5"/>
<polygon points="10.4,276.3 8.5,271.8 12.3,271.8" fill="#1a1a1a"/>
<text x="1.6" y="167" font-size="7.3" text-anchor="middle" fill="#1a1a1a" font-weight="normal" font-style="normal" transform="rotate(90 1.6 167)">d.0</text>
<text x="1.6" y="220.3" font-size="7.3" text-anchor="middle" fill="#1a1a1a" font-weight="normal" font-style="normal" transform="rotate(90 1.6 220.3)">18</text>
<text x="1.6" y="272.2" font-size="7.3" text-anchor="middle" fill="#1a1a1a" font-weight="normal" font-style="normal" transform="rotate(90 1.6 272.2)">35</text>
<g transform="translate(19.3,174.6) scale(0.9166666666666666,0.9166666666666666)"><path d="M-7.2,-9.6 C-5.5,-6.5 -3,-4.2 1.6,-4" fill="none" stroke="#b9abaa" stroke-width="0.75" stroke-linecap="round"/><path d="M0.9,-1.8 C0.2,-4.2 1.6,-6.8 4.6,-8 C7.4,-9 10.2,-8.7 12.4,-7.4 C12.8,-8.9 14.4,-9.2 14.9,-7.6 C16.4,-6.8 17.6,-5.6 18.1,-4.5 C17.2,-3.4 15.6,-3 14.2,-2.9 L14.6,-0.3 L13.2,-0.1 L12.6,-2.2 C10.5,-1.6 8,-1.5 6,-1.7 L6.4,-0.1 L3.4,0 L3.2,-1.1 C2.2,-1.1 1.4,-1.3 0.9,-1.8 Z" fill="#878384"/></g>
<path d="M10.3,171 L13,171 L14.5,169.5" fill="none" stroke="#444" stroke-width="0.6"/>
<polygon points="24.2,220 17.8,206.5 35.5,209.8" fill="#a9b8cc" opacity="0.9"/>
<circle cx="28.5" cy="200.9" r="12" fill="#ffffff" stroke="#a8a8a8" stroke-width="0.7"/>
<path d="M24,190.5 L30,197.5 L37,205.5" fill="none" stroke="#ead6b2" stroke-width="2.4" stroke-linecap="round"/>
<line x1="31.00" y1="198.00" x2="34.50" y2="194.50" stroke="#8b97a8" stroke-width="0.6"/>
<text x="19.3" y="204.8" font-size="7.4" text-anchor="start" fill="#2a2a2a" font-weight="normal" font-style="normal">Drill</text>
<g transform="translate(20.2,224.6) scale(0.8666666666666667,0.8666666666666667)"><path d="M-7.2,-9.6 C-5.5,-6.5 -3,-4.2 1.6,-4" fill="none" stroke="#b9abaa" stroke-width="0.75" stroke-linecap="round"/><path d="M0.9,-1.8 C0.2,-4.2 1.6,-6.8 4.6,-8 C7.4,-9 10.2,-8.7 12.4,-7.4 C12.8,-8.9 14.4,-9.2 14.9,-7.6 C16.4,-6.8 17.6,-5.6 18.1,-4.5 C17.2,-3.4 15.6,-3 14.2,-2.9 L14.6,-0.3 L13.2,-0.1 L12.6,-2.2 C10.5,-1.6 8,-1.5 6,-1.7 L6.4,-0.1 L3.4,0 L3.2,-1.1 C2.2,-1.1 1.4,-1.3 0.9,-1.8 Z" fill="#878384"/></g>
<line x1="28.80" y1="225.40" x2="39.40" y2="235.80" stroke="#666" stroke-width="0.9"/>
<path d="M26,225.8 l0.7,1.3 M27.2,228.4 l0.7,1.4" stroke="#e8212b" stroke-width="0.9" fill="none"/>
<line x1="17.20" y1="220.70" x2="11.60" y2="220.70" stroke="#1a1a1a" stroke-width="0.7"/>
<polygon points="11.60,220.70 13.33,219.70 13.33,221.70" fill="#1a1a1a"/>
<line x1="17.20" y1="223.40" x2="11.80" y2="223.40" stroke="#e8212b" stroke-width="0.7"/>
<polygon points="11.80,223.40 13.53,222.40 13.53,224.40" fill="#e8212b"/>
<line x1="17.20" y1="226.00" x2="11.80" y2="226.00" stroke="#e8212b" stroke-width="0.7"/>
<polygon points="11.80,226.00 13.53,225.00 13.53,227.00" fill="#e8212b"/>
<line x1="17.20" y1="228.60" x2="11.80" y2="228.60" stroke="#e8212b" stroke-width="0.7"/>
<polygon points="11.80,228.60 13.53,227.60 13.53,229.60" fill="#e8212b"/>
<line x1="17.20" y1="231.20" x2="11.80" y2="231.20" stroke="#e8212b" stroke-width="0.7"/>
<polygon points="11.80,231.20 13.53,230.20 13.53,232.20" fill="#e8212b"/>
<text x="13.5" y="238.3" font-size="7.9" text-anchor="middle" fill="#e8212b" font-weight="normal" font-style="normal" transform="rotate(90 13.5 238.3)">DT</text>
<line x1="19.50" y1="271.50" x2="13.40" y2="271.50" stroke="#1a1a1a" stroke-width="0.8"/>
<polygon points="13.40,271.50 15.57,270.25 15.57,272.75" fill="#1a1a1a"/>
<text x="22.2" y="272.5" font-size="7.5" text-anchor="middle" fill="#1a1a1a" font-weight="normal" font-style="normal" transform="rotate(90 22.2 272.5)">BLI</text>
<text x="67.5" y="200.7" font-size="7.6" text-anchor="middle" fill="#1a1a1a" font-weight="normal" font-style="normal" transform="rotate(-90 67.5 200.7)">NG2<tspan dy="-2.4" font-size="6.2">WT</tspan><tspan dy="2.4" font-size="7.6">&#8203;</tspan></text>
<text x="67.5" y="247.4" font-size="7.6" text-anchor="middle" fill="#1a1a1a" font-weight="normal" font-style="normal" transform="rotate(-90 67.5 247.4)">NG2<tspan dy="-2.4" font-size="6.2">Dep</tspan><tspan dy="2.4" font-size="7.6">&#8203;</tspan></text>
<clipPath id="t1"><rect x="69.6" y="178.9" width="24.3" height="43.1"/></clipPath>
<rect x="69.6" y="178.9" width="24.3" height="43.1" fill="#262626"/>
<g clip-path="url(#t1)"><g transform="translate(69.6,178.9)">

<g filter="url(#bl1)">
<path d="M1.5,3.5 C11.7,8.0 21.3,12.0 21.5,17" stroke="#dcdcdc" stroke-width="3.0" stroke-linecap="round" fill="none"/>
<circle cx="2.1" cy="3.7" r="2.0" fill="#dcdcdc"/>
<path d="M21.5,17 C21.7,21.5 12.6,29.7 2.5,38" stroke="#f2f2f2" stroke-width="1.7" stroke-linecap="round" fill="none"/>
<path d="M19.3,18.5 C18.5,22.5 10.0,28.9 2.8,36.8" stroke="#dcdcdc" stroke-width="1.0" stroke-linecap="round" fill="none"/>
</g>
<path d="M9.5,9.5 C14,11 20.5,13.5 21.5,17 L21,20.5" stroke="#574cc0" stroke-width="4.6" opacity="0.95" fill="none" stroke-linecap="round" stroke-linejoin="round" filter="url(#bl2)"/>
<circle cx="12.7" cy="7.2" r="1.7" fill="#e3173e"/>
</g></g>
<clipPath id="t2"><rect x="95.8" y="178.9" width="24.3" height="43.1"/></clipPath>
<rect x="95.8" y="178.9" width="24.3" height="43.1" fill="#262626"/>
<g clip-path="url(#t2)"><g transform="translate(95.8,178.9)">

<g filter="url(#bl1)">
<path d="M3,4.5 C12.3,10.8 20.8,17.0 21,22" stroke="#cfcfcf" stroke-width="3.0" stroke-linecap="round" fill="none"/>
<circle cx="3.6" cy="4.7" r="2.0" fill="#cfcfcf"/>
<path d="M21,22 C21.2,26.5 12.5,33.1 2.8,40" stroke="#f2f2f2" stroke-width="1.7" stroke-linecap="round" fill="none"/>
<path d="M18.8,23.5 C18.0,27.5 9.9,32.3 3.0999999999999996,38.8" stroke="#cfcfcf" stroke-width="1.0" stroke-linecap="round" fill="none"/>
</g>
<path d="M4,5 C10,8 18,14 19.5,21 L18,27" stroke="#574cc0" stroke-width="6.5" opacity="1" fill="none" stroke-linecap="round" stroke-linejoin="round" filter="url(#bl2)"/>
<ellipse cx="15.5" cy="19" rx="5.5" ry="8" fill="#574cc0" opacity="1" filter="url(#bl2)" transform="rotate(-20 15.5 19)"/>
<ellipse cx="18" cy="18.5" rx="3.5" ry="4.5" fill="#4f4fd6" opacity="0.9" filter="url(#bl2)" transform="rotate(0 18 18.5)"/>
<circle cx="13.5" cy="9.7" r="1.7" fill="#e3173e"/>
</g></g>
<clipPath id="t3"><rect x="121.9" y="178.9" width="24.3" height="43.1"/></clipPath>
<rect x="121.9" y="178.9" width="24.3" height="43.1" fill="#262626"/>
<g clip-path="url(#t3)"><g transform="translate(121.9,178.9)">
<path d="M12,-1 L25,5" stroke="#e9e9e9" stroke-width="0.8"/>
<g filter="url(#bl1)">
<path d="M4,5 C11.9,12.4 18.8,20.0 19,25" stroke="#c9c9c9" stroke-width="3.0" stroke-linecap="round" fill="none"/>
<circle cx="4.6" cy="5.2" r="2.0" fill="#c9c9c9"/>
<path d="M19,25 C19.2,29.5 12.0,33.6 3.5,38.5" stroke="#f2f2f2" stroke-width="1.7" stroke-linecap="round" fill="none"/>
<path d="M16.8,26.5 C16.0,30.5 9.4,32.8 3.8,37.3" stroke="#c9c9c9" stroke-width="1.0" stroke-linecap="round" fill="none"/>
</g>
<path d="M6,6 C11,10 18,18 18,24 C18,29 12,33 8,36" stroke="#574cc0" stroke-width="8" opacity="1" fill="none" stroke-linecap="round" stroke-linejoin="round" filter="url(#bl2)"/>
<ellipse cx="8" cy="7" rx="5" ry="4" fill="#574cc0" opacity="1" filter="url(#bl2)" transform="rotate(30 8 7)"/>
<ellipse cx="15" cy="22" rx="6" ry="8" fill="#574cc0" opacity="1" filter="url(#bl2)" transform="rotate(-20 15 22)"/>
<ellipse cx="17.5" cy="24.5" rx="5.5" ry="6" fill="#4f4fd6" opacity="1" filter="url(#bl2)" transform="rotate(0 17.5 24.5)"/>
<ellipse cx="18.3" cy="25.2" rx="4.4" ry="4.4" fill="#39c6e6" opacity="1" filter="url(#bl2)" transform="rotate(0 18.3 25.2)"/>
<ellipse cx="18.4" cy="25.4" rx="3.2" ry="3.2" fill="#e8e040" opacity="1" filter="url(#bl2)" transform="rotate(0 18.4 25.4)"/>
<ellipse cx="18.5" cy="25.5" rx="2.1" ry="2.1" fill="#f02a1e" opacity="1" filter="url(#bl1)" transform="rotate(0 18.5 25.5)"/>
<circle cx="14" cy="11.2" r="1.7" fill="#e3173e"/>
</g></g>
<clipPath id="t4"><rect x="69.6" y="225.0" width="24.3" height="43.7"/></clipPath>
<rect x="69.6" y="225.0" width="24.3" height="43.7" fill="#262626"/>
<g clip-path="url(#t4)"><g transform="translate(69.6,225.0)">

<g filter="url(#bl1)">
<path d="M2,4 C12.0,10.3 21.3,16.5 21.5,21.5" stroke="#d0d0d0" stroke-width="3.0" stroke-linecap="round" fill="none"/>
<circle cx="2.6" cy="4.2" r="2.0" fill="#d0d0d0"/>
<path d="M21.5,21.5 C21.7,26.0 12.9,31.1 3.2,36.8" stroke="#f2f2f2" stroke-width="1.7" stroke-linecap="round" fill="none"/>
<path d="M19.3,23.0 C18.5,27.0 10.3,30.3 3.5,35.599999999999994" stroke="#d0d0d0" stroke-width="1.0" stroke-linecap="round" fill="none"/>
</g>
<path d="M21.5,20.5 C21.5,24.5 19,27.5 15,30" stroke="#574cc0" stroke-width="4.8" opacity="0.95" fill="none" stroke-linecap="round" stroke-linejoin="round" filter="url(#bl2)"/>
<circle cx="12.7" cy="10.8" r="1.7" fill="#e3173e"/>
</g></g>
<clipPath id="t5"><rect x="95.8" y="225.0" width="24.3" height="43.7"/></clipPath>
<rect x="95.8" y="225.0" width="24.3" height="43.7" fill="#262626"/>
<g clip-path="url(#t5)"><g transform="translate(95.8,225.0)">

<g filter="url(#bl1)">
<path d="M2.5,4 C12.2,9.5 21.3,14.7 21.5,19.7" stroke="#cfcfcf" stroke-width="3.0" stroke-linecap="round" fill="none"/>
<circle cx="3.1" cy="4.2" r="2.0" fill="#cfcfcf"/>
<path d="M21.5,19.7 C21.7,24.2 12.7,31.4 2.7,38.8" stroke="#f2f2f2" stroke-width="1.7" stroke-linecap="round" fill="none"/>
<path d="M19.3,21.2 C18.5,25.2 10.1,30.6 3.0,37.599999999999994" stroke="#cfcfcf" stroke-width="1.0" stroke-linecap="round" fill="none"/>
</g>
<circle cx="13.5" cy="11.2" r="1.7" fill="#e3173e"/>
</g></g>
<clipPath id="t6"><rect x="121.9" y="225.0" width="24.3" height="43.7"/></clipPath>
<rect x="121.9" y="225.0" width="24.3" height="43.7" fill="#262626"/>
<g clip-path="url(#t6)"><g transform="translate(121.9,225.0)">

<g filter="url(#bl1)">
<path d="M2.8,3 C11.5,11.8 19.3,21.0 19.5,26" stroke="#d4d4d4" stroke-width="3.0" stroke-linecap="round" fill="none"/>
<circle cx="3.4" cy="3.2" r="2.0" fill="#d4d4d4"/>
<path d="M19.5,26 C19.7,30.5 13.0,34.8 5,39.8" stroke="#f2f2f2" stroke-width="1.7" stroke-linecap="round" fill="none"/>
<path d="M17.3,27.5 C16.5,31.5 10.4,34.0 5.3,38.599999999999994" stroke="#d4d4d4" stroke-width="1.0" stroke-linecap="round" fill="none"/>
</g>
<path d="M13.5,14 C17,18 19.5,22 19.5,26 C19.5,29 17,31.5 15,33" stroke="#574cc0" stroke-width="4.6" opacity="0.95" fill="none" stroke-linecap="round" stroke-linejoin="round" filter="url(#bl2)"/>
<ellipse cx="17.6" cy="24.5" rx="1.4" ry="1.4" fill="#e8e8f8" opacity="0.9" filter="url(#bl1)" transform="rotate(0 17.6 24.5)"/>
<circle cx="10" cy="10.8" r="1.7" fill="#e3173e"/>
</g></g>
<rect x="148.9" y="225.1" width="2.0" height="43.4" fill="url(#cbar)"/>
<text x="153" y="228.1" font-size="7.4" text-anchor="start" fill="#1a1a1a" font-weight="normal" font-style="normal">5E4</text>
<text x="153" y="270.7" font-size="7.4" text-anchor="start" fill="#1a1a1a" font-weight="normal" font-style="normal">2E2</text>
<text x="192.5" y="153.8" font-size="10.5" text-anchor="start" fill="#000" font-weight="bold" font-style="normal">E</text>
<line x1="208.20" y1="170.50" x2="208.20" y2="273.00" stroke="#1a1a1a" stroke-width="1.5"/>
<polygon points="208.2,277.4 206.3,273 210.1,273" fill="#1a1a1a"/>
<text x="199.6" y="167.5" font-size="7.3" text-anchor="middle" fill="#1a1a1a" font-weight="normal" font-style="normal" transform="rotate(90 199.6 167.5)">d.0</text>
<text x="199.6" y="221.8" font-size="7.3" text-anchor="middle" fill="#1a1a1a" font-weight="normal" font-style="normal" transform="rotate(90 199.6 221.8)">18</text>
<text x="199.6" y="272.4" font-size="7.3" text-anchor="middle" fill="#1a1a1a" font-weight="normal" font-style="normal" transform="rotate(90 199.6 272.4)">35</text>
<g transform="translate(217.5,174.6) scale(0.8888888888888888,0.8888888888888888)"><path d="M-7.2,-9.6 C-5.5,-6.5 -3,-4.2 1.6,-4" fill="none" stroke="#b9abaa" stroke-width="0.75" stroke-linecap="round"/><path d="M0.9,-1.8 C0.2,-4.2 1.6,-6.8 4.6,-8 C7.4,-9 10.2,-8.7 12.4,-7.4 C12.8,-8.9 14.4,-9.2 14.9,-7.6 C16.4,-6.8 17.6,-5.6 18.1,-4.5 C17.2,-3.4 15.6,-3 14.2,-2.9 L14.6,-0.3 L13.2,-0.1 L12.6,-2.2 C10.5,-1.6 8,-1.5 6,-1.7 L6.4,-0.1 L3.4,0 L3.2,-1.1 C2.2,-1.1 1.4,-1.3 0.9,-1.8 Z" fill="#878384"/></g>
<path d="M208.3,171 L211,171 L212.5,169.5" fill="none" stroke="#444" stroke-width="0.6"/>
<g transform="translate(218,223.2) scale(0.8999999999999999,0.8999999999999999)"><path d="M-7.2,-9.6 C-5.5,-6.5 -3,-4.2 1.6,-4" fill="none" stroke="#b9abaa" stroke-width="0.75" stroke-linecap="round"/><path d="M0.9,-1.8 C0.2,-4.2 1.6,-6.8 4.6,-8 C7.4,-9 10.2,-8.7 12.4,-7.4 C12.8,-8.9 14.4,-9.2 14.9,-7.6 C16.4,-6.8 17.6,-5.6 18.1,-4.5 C17.2,-3.4 15.6,-3 14.2,-2.9 L14.6,-0.3 L13.2,-0.1 L12.6,-2.2 C10.5,-1.6 8,-1.5 6,-1.7 L6.4,-0.1 L3.4,0 L3.2,-1.1 C2.2,-1.1 1.4,-1.3 0.9,-1.8 Z" fill="#878384"/></g>
<line x1="223.80" y1="213.90" x2="236.30" y2="203.80" stroke="#5a5a5a" stroke-width="1.1"/>
<path d="M220.3,211 l1.7,1.5 M222,211 l-1.7,1.5" stroke="#e8212b" stroke-width="0.7"/>
<line x1="215.20" y1="225.90" x2="210.00" y2="225.90" stroke="#e8212b" stroke-width="0.8"/>
<polygon points="210.00,225.90 211.82,224.85 211.82,226.95" fill="#e8212b"/>
<line x1="215.20" y1="228.60" x2="210.00" y2="228.60" stroke="#e8212b" stroke-width="0.8"/>
<polygon points="210.00,228.60 211.82,227.55 211.82,229.65" fill="#e8212b"/>
<line x1="215.20" y1="231.20" x2="210.00" y2="231.20" stroke="#e8212b" stroke-width="0.8"/>
<polygon points="210.00,231.20 211.82,230.15 211.82,232.25" fill="#e8212b"/>
<line x1="213.80" y1="221.40" x2="209.60" y2="221.40" stroke="#1a1a1a" stroke-width="0.7"/>
<polygon points="209.60,221.40 211.33,220.40 211.33,222.40" fill="#1a1a1a"/>
<text x="211.8" y="239.1" font-size="7.8" text-anchor="middle" fill="#e8212b" font-weight="bold" font-style="normal" transform="rotate(90 211.8 239.1)">DT</text>
<line x1="216.20" y1="272.70" x2="210.60" y2="272.70" stroke="#1a1a1a" stroke-width="0.8"/>
<polygon points="210.60,272.70 212.77,271.45 212.77,273.95" fill="#1a1a1a"/>
<text x="219.2" y="272.5" font-size="7.5" text-anchor="middle" fill="#1a1a1a" font-weight="normal" font-style="normal" transform="rotate(90 219.2 272.5)">BLI</text>
<text x="262.2" y="200.8" font-size="7.6" text-anchor="middle" fill="#1a1a1a" font-weight="normal" font-style="normal" transform="rotate(-90 262.2 200.8)">NG2<tspan dy="-2.4" font-size="6.2">WT</tspan><tspan dy="2.4" font-size="7.6">&#8203;</tspan></text>
<text x="262.2" y="247.4" font-size="7.6" text-anchor="middle" fill="#1a1a1a" font-weight="normal" font-style="normal" transform="rotate(-90 262.2 247.4)">NG2<tspan dy="-2.4" font-size="6.2">Dep</tspan><tspan dy="2.4" font-size="7.6">&#8203;</tspan></text>
<clipPath id="t7"><rect x="264.1" y="179.2" width="24.3" height="43.2"/></clipPath>
<rect x="264.1" y="179.2" width="24.3" height="43.2" fill="#383838"/>
<g clip-path="url(#t7)"><g transform="translate(264.1,179.2)">
<path d="M0,33 Q8,36 14,44" stroke="#1c1c1c" stroke-width="3" fill="none"/>
<g filter="url(#bl1)">
<path d="M7,3.5 C12.4,9.3 16.1,15.0 16.3,20" stroke="#d8d8d8" stroke-width="3.0" stroke-linecap="round" fill="none"/>
<circle cx="7.6" cy="3.7" r="2.0" fill="#d8d8d8"/>
<path d="M16.3,20 C16.5,24.5 12.0,32.2 5.7,40" stroke="#f2f2f2" stroke-width="2.5" stroke-linecap="round" fill="none"/>
<path d="M14.100000000000001,21.5 C13.3,25.5 9.4,31.4 6.0,38.8" stroke="#d8d8d8" stroke-width="1.0" stroke-linecap="round" fill="none"/>
</g>
<path d="M7,3.5 C10,8 15,13 16.3,18.5" stroke="#5a38c8" stroke-width="5.2" opacity="1" fill="none" stroke-linecap="round" stroke-linejoin="round" filter="url(#bl2)"/>
</g></g>
<clipPath id="t8"><rect x="290.8" y="179.2" width="24.3" height="43.2"/></clipPath>
<rect x="290.8" y="179.2" width="24.3" height="43.2" fill="#383838"/>
<g clip-path="url(#t8)"><g transform="translate(290.8,179.2)">

<g filter="url(#bl1)">
<path d="M7,5.5 C12.8,12.2 17.1,19.0 17.3,24" stroke="#e2e2e2" stroke-width="3.0" stroke-linecap="round" fill="none"/>
<circle cx="7.6" cy="5.7" r="2.0" fill="#e2e2e2"/>
<path d="M17.3,24 C17.5,28.5 11.9,34.0 4.7,40" stroke="#f2f2f2" stroke-width="2.5" stroke-linecap="round" fill="none"/>
<path d="M15.100000000000001,25.5 C14.3,29.5 9.3,33.2 5.0,38.8" stroke="#e2e2e2" stroke-width="1.0" stroke-linecap="round" fill="none"/>
</g>
<path d="M7,5.5 C10,10 15,16 17,22" stroke="#574cc0" stroke-width="2.6" opacity="0.8" fill="none" stroke-linecap="round" stroke-linejoin="round" filter="url(#bl2)"/>
<ellipse cx="16" cy="22" rx="5.5" ry="7" fill="#574cc0" opacity="1" filter="url(#bl2)" transform="rotate(-10 16 22)"/>
<ellipse cx="16.5" cy="22.2" rx="3" ry="3.4" fill="#3bb4e0" opacity="1" filter="url(#bl2)" transform="rotate(0 16.5 22.2)"/>
<ellipse cx="16.8" cy="22.4" rx="1.7" ry="2" fill="#8ed44a" opacity="1" filter="url(#bl1)" transform="rotate(0 16.8 22.4)"/>
</g></g>
<clipPath id="t9"><rect x="317.0" y="179.2" width="24.3" height="43.2"/></clipPath>
<rect x="317.0" y="179.2" width="24.3" height="43.2" fill="#383838"/>
<g clip-path="url(#t9)"><g transform="translate(317.0,179.2)">

<g filter="url(#bl1)">
<path d="M3,5.5 C10.5,13.1 16.8,21.0 17,26" stroke="#e6e6e6" stroke-width="3.0" stroke-linecap="round" fill="none"/>
<circle cx="3.6" cy="5.7" r="2.0" fill="#e6e6e6"/>
<path d="M17,26 C17.2,30.5 11.4,34.1 4,38.5" stroke="#f2f2f2" stroke-width="2.5" stroke-linecap="round" fill="none"/>
<path d="M14.8,27.5 C14.0,31.5 8.8,33.3 4.3,37.3" stroke="#e6e6e6" stroke-width="1.0" stroke-linecap="round" fill="none"/>
</g>
<path d="M4,5 C11,9 19,17 19,23 C19,28 12,33 7,37" stroke="#574cc0" stroke-width="8" opacity="1" fill="none" stroke-linecap="round" stroke-linejoin="round" filter="url(#bl2)"/>
<ellipse cx="5.5" cy="6" rx="4" ry="3.5" fill="#574cc0" opacity="1" filter="url(#bl2)" transform="rotate(0 5.5 6)"/>
<ellipse cx="17" cy="25" rx="5.5" ry="6.5" fill="#4f4fd6" opacity="1" filter="url(#bl2)" transform="rotate(0 17 25)"/>
<ellipse cx="16.7" cy="27.5" rx="2.8" ry="2.4" fill="#39c0e8" opacity="1" filter="url(#bl1)" transform="rotate(0 16.7 27.5)"/>
</g></g>
<clipPath id="t10"><rect x="264.1" y="225.4" width="24.3" height="43.9"/></clipPath>
<rect x="264.1" y="225.4" width="24.3" height="43.9" fill="#383838"/>
<g clip-path="url(#t10)"><g transform="translate(264.1,225.4)">

<g filter="url(#bl1)">
<path d="M3.6,5.3 C11.0,10.9 17.1,16.2 17.3,21.2" stroke="#a9a9a9" stroke-width="3.0" stroke-linecap="round" fill="none"/>
<circle cx="4.2" cy="5.5" r="2.0" fill="#a9a9a9"/>
<path d="M17.3,21.2 C17.5,25.7 11.9,32.9 4.7,40.2" stroke="#f2f2f2" stroke-width="2.5" stroke-linecap="round" fill="none"/>
<path d="M15.100000000000001,22.7 C14.3,26.7 9.3,32.1 5.0,39.0" stroke="#a9a9a9" stroke-width="1.0" stroke-linecap="round" fill="none"/>
</g>
</g></g>
<clipPath id="t11"><rect x="290.8" y="225.4" width="24.3" height="43.9"/></clipPath>
<rect x="290.8" y="225.4" width="24.3" height="43.9" fill="#383838"/>
<g clip-path="url(#t11)"><g transform="translate(290.8,225.4)">
<path d="M0,3 Q2,0 5,0" stroke="#dcdcdc" stroke-width="1" fill="none"/>
<g filter="url(#bl1)">
<path d="M4.7,3.2 C11.1,9.7 16.1,16.2 16.3,21.2" stroke="#a2a2a2" stroke-width="3.0" stroke-linecap="round" fill="none"/>
<circle cx="5.3" cy="3.4000000000000004" r="2.0" fill="#a2a2a2"/>
<path d="M16.3,21.2 C16.5,25.7 11.4,32.9 4.7,40.2" stroke="#f2f2f2" stroke-width="2.5" stroke-linecap="round" fill="none"/>
<path d="M14.100000000000001,22.7 C13.3,26.7 8.8,32.1 5.0,39.0" stroke="#a2a2a2" stroke-width="1.0" stroke-linecap="round" fill="none"/>
</g>
</g></g>
<clipPath id="t12"><rect x="317.0" y="225.4" width="24.3" height="43.9"/></clipPath>
<rect x="317.0" y="225.4" width="24.3" height="43.9" fill="#383838"/>
<g clip-path="url(#t12)"><g transform="translate(317.0,225.4)">

<g filter="url(#bl1)">
<path d="M4,4.2 C11.4,11.2 17.6,18.3 17.8,23.3" stroke="#e0e0e0" stroke-width="3.0" stroke-linecap="round" fill="none"/>
<circle cx="4.6" cy="4.4" r="2.0" fill="#e0e0e0"/>
<path d="M17.8,23.3 C18.0,27.8 12.3,33.8 5,40.2" stroke="#f2f2f2" stroke-width="2.5" stroke-linecap="round" fill="none"/>
<path d="M15.600000000000001,24.8 C14.8,28.8 9.7,33.0 5.3,39.0" stroke="#e0e0e0" stroke-width="1.0" stroke-linecap="round" fill="none"/>
</g>
<path d="M6,6 C11,10 18,17 18,23.5 C18,28 13,32 9,36" stroke="#574cc0" stroke-width="5.5" opacity="1" fill="none" stroke-linecap="round" stroke-linejoin="round" filter="url(#bl2)"/>
<ellipse cx="17.5" cy="24" rx="5" ry="6.5" fill="#574cc0" opacity="1" filter="url(#bl2)" transform="rotate(-10 17.5 24)"/>
<ellipse cx="18.2" cy="25" rx="3.6" ry="4" fill="#3bb4e0" opacity="1" filter="url(#bl2)" transform="rotate(0 18.2 25)"/>
<ellipse cx="18.6" cy="25.4" rx="2.3" ry="2.6" fill="#7fd257" opacity="1" filter="url(#bl1)" transform="rotate(0 18.6 25.4)"/>
</g></g>
<rect x="343.8" y="224.8" width="2.0" height="43.7" fill="url(#cbar)"/>
<text x="347.6" y="228.1" font-size="7.4" text-anchor="start" fill="#1a1a1a" font-weight="normal" font-style="normal">5E4</text>
<text x="347.6" y="270.7" font-size="7.4" text-anchor="start" fill="#1a1a1a" font-weight="normal" font-style="normal">2E2</text>
<text x="0.5" y="305.3" font-size="10.5" text-anchor="start" fill="#000" font-weight="bold" font-style="normal">C</text>
<line x1="26.80" y1="360.60" x2="122.00" y2="360.60" stroke="#6f6a80" stroke-width="0.6" stroke-dasharray="1.1 0.9"/>
<polyline points="26.80,355.57 27.38,372.88 28.17,372.70 28.82,370.57 29.71,368.46 30.26,362.78 31.41,360.59 32.28,354.99 32.87,356.87 34.01,359.03 35.13,361.94 35.74,363.65 36.84,361.22 37.47,361.92 38.32,358.30 39.20,356.72 40.10,353.85 40.94,350.38 41.81,347.79 43.24,347.49 44.27,349.46 45.55,348.07 46.86,345.26 47.86,345.19 49.33,343.15 50.46,344.03 51.53,341.95 52.48,342.88 53.05,343.23 54.21,340.57 55.19,340.58 56.51,342.88 57.95,344.10 58.82,342.30 59.57,346.19 60.55,346.34 61.42,360.76 62.45,360.62 63.44,359.03 64.42,362.26 65.75,361.92 66.72,367.26 67.48,368.84 68.57,370.62 69.21,374.03 69.99,374.99 70.94,378.65 72.09,383.26 72.75,380.06 73.82,380.38 74.57,378.77 75.55,376.34 76.13,375.04 77.28,372.30 78.20,370.67 79.30,370.57 80.35,369.05 81.04,367.69 81.94,369.05 83.05,370.57 84.04,367.05 84.79,367.11 85.93,363.74 86.52,364.22 87.53,366.77 88.25,366.53 88.83,367.12 89.98,365.38 90.77,363.96 91.71,361.92 92.44,360.66 93.73,363.07 94.41,363.75 95.46,360.76 96.15,358.33 97.19,353.84 98.30,357.64 98.92,357.88 99.70,359.89 100.65,363.07 101.53,363.03 102.38,360.76 103.02,362.63 104.11,362.49 105.15,366.25 105.84,367.11 106.59,370.64 107.86,370.57 108.49,370.50 109.60,371.72 110.75,363.07 111.68,359.57 112.48,352.69 113.25,352.67 114.21,349.23 115.10,347.60 115.94,347.49 116.70,344.46 117.67,344.03 118.29,340.02 119.40,338.84 120.38,339.98 121.13,337.11 122.00,334.80" fill="none" stroke="#9060b8" stroke-width="0.8" stroke-linejoin="round" stroke-linecap="round" stroke-linejoin="miter"/>
<path d="M26.80,408.93 C27.14,407.97 28.00,405.57 28.82,403.16 C29.64,400.76 30.26,398.12 31.70,394.51 C33.15,390.90 35.55,384.51 37.47,381.53 C39.40,378.55 41.56,377.25 43.24,376.63 C44.93,376.00 45.89,376.48 47.57,377.78 C49.25,379.08 51.42,381.87 53.34,384.41 C55.26,386.96 57.19,390.76 59.11,393.07 C61.03,395.37 62.96,396.91 64.88,398.26 C66.80,399.61 68.25,400.57 70.65,401.14 C73.05,401.72 76.18,401.38 79.30,401.72 C82.43,402.06 86.04,403.26 89.40,403.16 C92.77,403.07 96.61,401.77 99.50,401.14 C102.38,400.52 104.79,399.41 106.71,399.41 C108.63,399.41 109.60,400.04 111.04,401.14 C112.48,402.25 113.54,404.51 115.36,406.05 C117.19,407.59 120.89,409.65 122.00,410.37" fill="none" stroke="#3d3fa3" stroke-width="2.3" stroke-linecap="round" stroke-linejoin="round"/>
<path d="M26.80,388.74 C27.14,387.54 28.00,384.41 28.82,381.53 C29.64,378.65 30.26,375.52 31.70,371.43 C33.15,367.35 35.55,360.28 37.47,357.01 C39.40,353.74 41.56,352.30 43.24,351.82 C44.93,351.34 45.89,352.06 47.57,354.13 C49.25,356.20 51.42,361.20 53.34,364.22 C55.26,367.25 57.33,371.15 59.11,372.30 C60.89,373.45 62.33,371.63 64.01,371.15 C65.70,370.67 67.62,369.22 69.21,369.42 C70.79,369.61 71.85,370.28 73.53,372.30 C75.22,374.32 77.38,378.79 79.30,381.53 C81.23,384.27 82.91,387.20 85.07,388.74 C87.24,390.28 89.88,391.24 92.29,390.76 C94.69,390.28 97.33,387.25 99.50,385.86 C101.66,384.46 103.59,382.64 105.27,382.40 C106.95,382.16 108.15,382.40 109.60,384.41 C111.04,386.43 112.48,391.38 113.92,394.51 C115.36,397.63 116.90,401.24 118.25,403.16 C119.60,405.09 121.37,405.57 122.00,406.05" fill="none" stroke="#e8212b" stroke-width="2.3" stroke-linecap="round" stroke-linejoin="round"/>
<line x1="26.80" y1="319.00" x2="26.80" y2="413.80" stroke="#1a1a1a" stroke-width="1.1"/>
<line x1="26.30" y1="413.30" x2="122.50" y2="413.30" stroke="#1a1a1a" stroke-width="1.1"/>
<line x1="122.00" y1="319.00" x2="122.00" y2="413.80" stroke="#2a2030" stroke-width="1.1"/>
<line x1="24.60" y1="413.30" x2="26.80" y2="413.30" stroke="#1a1a1a" stroke-width="0.9"/>
<text x="23.400000000000002" y="416.0" font-size="7.5" text-anchor="end" fill="#1a1a1a" font-weight="normal" font-style="normal">0</text>
<line x1="24.60" y1="394.54" x2="26.80" y2="394.54" stroke="#1a1a1a" stroke-width="0.9"/>
<text x="23.400000000000002" y="397.24" font-size="7.5" text-anchor="end" fill="#1a1a1a" font-weight="normal" font-style="normal">20</text>
<line x1="24.60" y1="375.78" x2="26.80" y2="375.78" stroke="#1a1a1a" stroke-width="0.9"/>
<text x="23.400000000000002" y="378.48" font-size="7.5" text-anchor="end" fill="#1a1a1a" font-weight="normal" font-style="normal">40</text>
<line x1="24.60" y1="357.02" x2="26.80" y2="357.02" stroke="#1a1a1a" stroke-width="0.9"/>
<text x="23.400000000000002" y="359.71999999999997" font-size="7.5" text-anchor="end" fill="#1a1a1a" font-weight="normal" font-style="normal">60</text>
<line x1="24.60" y1="338.26" x2="26.80" y2="338.26" stroke="#1a1a1a" stroke-width="0.9"/>
<text x="23.400000000000002" y="340.96" font-size="7.5" text-anchor="end" fill="#1a1a1a" font-weight="normal" font-style="normal">80</text>
<line x1="24.60" y1="319.50" x2="26.80" y2="319.50" stroke="#1a1a1a" stroke-width="0.9"/>
<text x="23.400000000000002" y="322.2" font-size="7.5" text-anchor="end" fill="#1a1a1a" font-weight="normal" font-style="normal">100</text>
<line x1="122.00" y1="319.50" x2="124.20" y2="319.50" stroke="#2a2030" stroke-width="0.9"/>
<text x="125.6" y="322.2" font-size="7.5" text-anchor="start" fill="#5b2f91" font-weight="normal" font-style="normal">1</text>
<line x1="122.00" y1="350.77" x2="124.20" y2="350.77" stroke="#2a2030" stroke-width="0.9"/>
<text x="125.6" y="353.46666666666664" font-size="7.5" text-anchor="start" fill="#5b2f91" font-weight="normal" font-style="normal">0.1</text>
<line x1="122.00" y1="382.03" x2="124.20" y2="382.03" stroke="#2a2030" stroke-width="0.9"/>
<text x="125.6" y="384.73333333333335" font-size="7.5" text-anchor="start" fill="#5b2f91" font-weight="normal" font-style="normal">0.01</text>
<line x1="122.00" y1="413.30" x2="124.20" y2="413.30" stroke="#2a2030" stroke-width="0.9"/>
<text x="125.6" y="416.0" font-size="7.5" text-anchor="start" fill="#5b2f91" font-weight="normal" font-style="normal">0.001</text>
<text x="8.3" y="367.2" font-size="7.6" text-anchor="middle" fill="#1a1a1a" font-weight="normal" font-style="normal" transform="rotate(-90 8.3 367.2)">Transformed BLI</text>
<text x="132" y="329.2" font-size="7.9" text-anchor="middle" fill="#6a3fa8" font-weight="normal" font-style="normal" transform="rotate(90 132 329.2)"><tspan font-style="italic">P</tspan> value</text>
<line x1="31.70" y1="308.60" x2="38.30" y2="308.60" stroke="#e8212b" stroke-width="1.5"/>
<line x1="31.70" y1="318.80" x2="38.30" y2="318.80" stroke="#8a5cc0" stroke-width="0.9"/>
<text x="40.3" y="311.2" font-size="7.4" text-anchor="start" fill="#1a1a1a" font-weight="normal" font-style="normal">NG2<tspan dy="-2.4" font-size="6.1">WT</tspan><tspan dy="2.4" font-size="7.4">&#8203;</tspan> <tspan font-style="italic">n</tspan> = 24</text>
<text x="40.3" y="321.8" font-size="7.4" text-anchor="start" fill="#1a1a1a" font-weight="normal" font-style="normal">NG2<tspan dy="-2.4" font-size="6.1">Dep</tspan><tspan dy="2.4" font-size="7.4">&#8203;</tspan> <tspan font-style="italic">n</tspan> = 24</text>
<text x="80.2" y="377.3" font-size="7.6" text-anchor="start" fill="#1a1a1a" font-weight="normal" font-style="normal"><tspan font-style="italic">P</tspan> &lt; 0.05</text>
<text x="17.6" y="425.5" font-size="7.6" text-anchor="start" fill="#1a1a1a" font-weight="normal" font-style="normal">Distal</text>
<text x="107.2" y="425.5" font-size="7.6" text-anchor="start" fill="#1a1a1a" font-weight="normal" font-style="normal">Proximal</text>
<g transform="translate(0,-1.1)"><path d="M43,418.5 C44.5,417.2 47,417.5 48.5,419 C52,420.3 58,420.6 70,420.6 C84,420.6 92,420.3 97,419.6 C99.5,418.2 103,418.2 104.8,419.8 C105.8,421.5 104.8,423 103.8,424 C104.8,426 104.2,428.2 102.2,428.8 C100.2,429.2 98.6,428 98.2,426 C96,424.2 90,423.6 70,423.6 C58,423.6 52,424 49.2,425.3 C48,426.8 45.5,427.6 43.6,426.6 C42,425.4 42.6,423.4 43.6,422.4 C42.4,421.2 42.2,419.6 43,418.5 Z" fill="#efdcb8" stroke="#cdb58a" stroke-width="0.5"/><circle cx="101.6" cy="427" r="1.9" fill="#f3f0ea" stroke="#b9b3a6" stroke-width="0.5"/><rect x="70" y="420.4" width="1.3" height="3.4" fill="#c9583a"/></g>
<text x="0.5" y="455.7" font-size="10.5" text-anchor="start" fill="#000" font-weight="bold" font-style="normal">D</text>
<rect x="19" y="453.8" width="5.3" height="5.3" fill="#c9cccd"/>
<text x="28.4" y="459.3" font-size="7.6" text-anchor="start" fill="#1a1a1a" font-weight="normal" font-style="normal">Met-free R.H</text>
<rect x="19" y="463.4" width="5.3" height="5.3" fill="#ee7c7c"/>
<text x="28.4" y="468.9" font-size="7.6" text-anchor="start" fill="#1a1a1a" font-weight="normal" font-style="normal">Met R.H</text>
<rect x="98.6" y="463.4" width="5.3" height="5.3" fill="#e8212b" stroke="#222" stroke-width="0.5"/>
<text x="107.2" y="468.9" font-size="7.6" text-anchor="start" fill="#1a1a1a" font-weight="normal" font-style="normal">Peak on drill site</text>
<text x="71" y="487" font-size="7.6" text-anchor="start" fill="#1a1a1a" font-weight="normal" font-style="normal"><tspan font-style="italic">P</tspan> = 0.005</text>
<path d="M39.77,553.79 A34.2,34.2 0 0 1 24.44,496.57 L35.19,507.32 A19,19 0 0 0 43.70,539.11 Z" fill="#ee7c7c" stroke="#ffffff" stroke-width="0.6" stroke-linejoin="round"/>
<path d="M23.41,492.54 A34.2,34.2 0 0 1 47.59,482.52 L47.59,497.72 A19,19 0 0 0 34.16,503.28 Z" fill="#dcdedf"/>
<path d="M49.20,486.20 A34.4,34.4 0 1 1 40.30,553.83 L44.28,538.95 A19,19 0 1 0 49.20,501.60 Z" fill="#e8212b" stroke="#111" stroke-width="0.7" stroke-linejoin="round"/>
<text x="48" y="517.4" font-size="7.4" text-anchor="middle" fill="#1a1a1a" font-weight="normal" font-style="normal">NG2<tspan dy="-2.4" font-size="6.1">WT</tspan><tspan dy="2.4" font-size="7.4">&#8203;</tspan></text>
<text x="48" y="526.2" font-size="7.6" text-anchor="middle" fill="#1a1a1a" font-weight="normal" font-style="normal"><tspan font-style="italic">n</tspan> = 24</text>
<path d="M161.05,495.75 A34.3,34.3 0 1 1 103.67,528.88 L118.45,524.92 A19,19 0 1 0 150.24,506.56 Z" fill="#ee7c7c"/>
<path d="M98.91,525.22 A34.3,34.3 0 0 1 132.04,482.05 L132.04,497.35 A19,19 0 0 0 113.69,521.26 Z" fill="#dcdedf"/>
<path d="M136.80,485.50 A34.5,34.5 0 0 1 161.20,495.60 L150.24,506.56 A19,19 0 0 0 136.80,501.00 Z" fill="#e8212b" stroke="#111" stroke-width="0.7" stroke-linejoin="round"/>
<text x="136.4" y="517.4" font-size="7.4" text-anchor="middle" fill="#1a1a1a" font-weight="normal" font-style="normal">NG2<tspan dy="-2.4" font-size="6.1">Dep</tspan><tspan dy="2.4" font-size="7.4">&#8203;</tspan></text>
<text x="136.7" y="526.2" font-size="7.6" text-anchor="middle" fill="#1a1a1a" font-weight="normal" font-style="normal"><tspan font-style="italic">n</tspan> = 24</text>
<text x="166.6" y="305.3" font-size="10.5" text-anchor="start" fill="#000" font-weight="bold" font-style="normal">F</text>
<circle cx="213.03" cy="324.40" r="1.75" fill="none" stroke="#e03a3a" stroke-width="0.75"/>
<circle cx="213.03" cy="334.37" r="1.75" fill="none" stroke="#e03a3a" stroke-width="0.75"/>
<circle cx="208.31" cy="338.31" r="1.75" fill="none" stroke="#e03a3a" stroke-width="0.75"/>
<circle cx="216.71" cy="338.31" r="1.75" fill="none" stroke="#e03a3a" stroke-width="0.75"/>
<circle cx="205.68" cy="343.82" r="1.75" fill="none" stroke="#e03a3a" stroke-width="0.75"/>
<circle cx="221.43" cy="357.47" r="1.75" fill="none" stroke="#e03a3a" stroke-width="0.75"/>
<circle cx="205.68" cy="359.30" r="1.75" fill="none" stroke="#e03a3a" stroke-width="0.75"/>
<circle cx="213.03" cy="360.09" r="1.75" fill="none" stroke="#e03a3a" stroke-width="0.75"/>
<circle cx="219.33" cy="369.28" r="1.75" fill="none" stroke="#e03a3a" stroke-width="0.75"/>
<circle cx="205.68" cy="371.12" r="1.75" fill="none" stroke="#e03a3a" stroke-width="0.75"/>
<circle cx="213.03" cy="372.69" r="1.75" fill="none" stroke="#e03a3a" stroke-width="0.75"/>
<circle cx="220.91" cy="372.69" r="1.75" fill="none" stroke="#e03a3a" stroke-width="0.75"/>
<circle cx="205.68" cy="375.31" r="1.75" fill="none" stroke="#e03a3a" stroke-width="0.75"/>
<circle cx="219.33" cy="375.31" r="1.75" fill="none" stroke="#e03a3a" stroke-width="0.75"/>
<circle cx="213.03" cy="377.94" r="1.75" fill="none" stroke="#e03a3a" stroke-width="0.75"/>
<circle cx="213.03" cy="381.88" r="1.75" fill="none" stroke="#e03a3a" stroke-width="0.75"/>
<circle cx="205.68" cy="385.55" r="1.75" fill="none" stroke="#e03a3a" stroke-width="0.75"/>
<circle cx="213.03" cy="385.81" r="1.75" fill="none" stroke="#e03a3a" stroke-width="0.75"/>
<circle cx="205.68" cy="394.74" r="1.75" fill="none" stroke="#9a9a9a" stroke-width="0.75"/>
<circle cx="213.03" cy="392.11" r="1.75" fill="none" stroke="#9a9a9a" stroke-width="0.75"/>
<circle cx="220.12" cy="392.64" r="1.75" fill="none" stroke="#9a9a9a" stroke-width="0.75"/>
<circle cx="239.80" cy="328.60" r="1.75" fill="none" stroke="#4a4aa8" stroke-width="0.75"/>
<circle cx="239.80" cy="335.68" r="1.75" fill="none" stroke="#4a4aa8" stroke-width="0.75"/>
<circle cx="239.80" cy="356.68" r="1.75" fill="none" stroke="#4a4aa8" stroke-width="0.75"/>
<circle cx="243.74" cy="359.57" r="1.75" fill="none" stroke="#4a4aa8" stroke-width="0.75"/>
<circle cx="239.80" cy="364.82" r="1.75" fill="none" stroke="#4a4aa8" stroke-width="0.75"/>
<circle cx="239.80" cy="372.69" r="1.75" fill="none" stroke="#4a4aa8" stroke-width="0.75"/>
<circle cx="235.87" cy="379.51" r="1.75" fill="none" stroke="#4a4aa8" stroke-width="0.75"/>
<circle cx="240.33" cy="379.51" r="1.75" fill="none" stroke="#4a4aa8" stroke-width="0.75"/>
<circle cx="236.39" cy="385.81" r="1.75" fill="none" stroke="#4a4aa8" stroke-width="0.75"/>
<circle cx="243.74" cy="388.18" r="1.75" fill="none" stroke="#4a4aa8" stroke-width="0.75"/>
<circle cx="246.36" cy="391.59" r="1.75" fill="none" stroke="#4a4aa8" stroke-width="0.75"/>
<circle cx="240.07" cy="391.06" r="1.75" fill="none" stroke="#4a4aa8" stroke-width="0.75"/>
<circle cx="243.22" cy="394.21" r="1.75" fill="none" stroke="#4a4aa8" stroke-width="0.75"/>
<circle cx="232.19" cy="394.21" r="1.75" fill="none" stroke="#9a9a9a" stroke-width="0.75"/>
<circle cx="236.39" cy="395.00" r="1.75" fill="none" stroke="#9a9a9a" stroke-width="0.75"/>
<circle cx="247.15" cy="395.52" r="1.75" fill="none" stroke="#9a9a9a" stroke-width="0.75"/>
<circle cx="233.77" cy="398.67" r="1.75" fill="none" stroke="#9a9a9a" stroke-width="0.75"/>
<circle cx="238.49" cy="398.67" r="1.75" fill="none" stroke="#9a9a9a" stroke-width="0.75"/>
<circle cx="243.74" cy="398.15" r="1.75" fill="none" stroke="#9a9a9a" stroke-width="0.75"/>
<circle cx="235.34" cy="402.09" r="1.75" fill="none" stroke="#9a9a9a" stroke-width="0.75"/>
<circle cx="241.12" cy="401.56" r="1.75" fill="none" stroke="#9a9a9a" stroke-width="0.75"/>
<circle cx="246.89" cy="401.56" r="1.75" fill="none" stroke="#9a9a9a" stroke-width="0.75"/>
<circle cx="239.80" cy="396.05" r="1.75" fill="none" stroke="#9a9a9a" stroke-width="0.75"/>
<circle cx="231.14" cy="397.89" r="1.75" fill="none" stroke="#9a9a9a" stroke-width="0.75"/>
<circle cx="245.05" cy="399.99" r="1.75" fill="none" stroke="#9a9a9a" stroke-width="0.75"/>
<line x1="213.00" y1="346.44" x2="213.00" y2="387.39" stroke="#1a1a1a" stroke-width="0.8"/>
<line x1="204.50" y1="367.18" x2="221.50" y2="367.18" stroke="#1a1a1a" stroke-width="0.9"/>
<line x1="208.20" y1="346.44" x2="217.80" y2="346.44" stroke="#1a1a1a" stroke-width="0.9"/>
<line x1="208.20" y1="387.39" x2="217.80" y2="387.39" stroke="#1a1a1a" stroke-width="0.9"/>
<line x1="239.80" y1="363.24" x2="239.80" y2="402.61" stroke="#1a1a1a" stroke-width="0.8"/>
<line x1="231.10" y1="382.93" x2="248.50" y2="382.93" stroke="#1a1a1a" stroke-width="0.9"/>
<line x1="235.30" y1="363.24" x2="244.30" y2="363.24" stroke="#1a1a1a" stroke-width="0.9"/>
<line x1="235.30" y1="402.61" x2="244.30" y2="402.61" stroke="#1a1a1a" stroke-width="0.9"/>
<line x1="195.20" y1="320.20" x2="195.20" y2="414.10" stroke="#1a1a1a" stroke-width="1.1"/>
<line x1="194.70" y1="413.60" x2="257.50" y2="413.60" stroke="#1a1a1a" stroke-width="1.1"/>
<line x1="193.00" y1="413.60" x2="195.20" y2="413.60" stroke="#1a1a1a" stroke-width="0.9"/>
<text x="192.2" y="416.5" font-size="7.8" text-anchor="end" fill="#1a1a1a" font-weight="normal" font-style="normal">10<tspan dy="-2.5" font-size="6.4">0</tspan><tspan dy="2.5" font-size="7.8">&#8203;</tspan></text>
<line x1="193.00" y1="395.02" x2="195.20" y2="395.02" stroke="#1a1a1a" stroke-width="0.9"/>
<text x="192.2" y="397.92" font-size="7.8" text-anchor="end" fill="#1a1a1a" font-weight="normal" font-style="normal">10<tspan dy="-2.5" font-size="6.4">1</tspan><tspan dy="2.5" font-size="7.8">&#8203;</tspan></text>
<line x1="193.00" y1="376.44" x2="195.20" y2="376.44" stroke="#1a1a1a" stroke-width="0.9"/>
<text x="192.2" y="379.34" font-size="7.8" text-anchor="end" fill="#1a1a1a" font-weight="normal" font-style="normal">10<tspan dy="-2.5" font-size="6.4">2</tspan><tspan dy="2.5" font-size="7.8">&#8203;</tspan></text>
<line x1="193.00" y1="357.86" x2="195.20" y2="357.86" stroke="#1a1a1a" stroke-width="0.9"/>
<text x="192.2" y="360.76" font-size="7.8" text-anchor="end" fill="#1a1a1a" font-weight="normal" font-style="normal">10<tspan dy="-2.5" font-size="6.4">3</tspan><tspan dy="2.5" font-size="7.8">&#8203;</tspan></text>
<line x1="193.00" y1="339.28" x2="195.20" y2="339.28" stroke="#1a1a1a" stroke-width="0.9"/>
<text x="192.2" y="342.17999999999995" font-size="7.8" text-anchor="end" fill="#1a1a1a" font-weight="normal" font-style="normal">10<tspan dy="-2.5" font-size="6.4">4</tspan><tspan dy="2.5" font-size="7.8">&#8203;</tspan></text>
<line x1="193.00" y1="320.70" x2="195.20" y2="320.70" stroke="#1a1a1a" stroke-width="0.9"/>
<text x="192.2" y="323.59999999999997" font-size="7.8" text-anchor="end" fill="#1a1a1a" font-weight="normal" font-style="normal">10<tspan dy="-2.5" font-size="6.4">5</tspan><tspan dy="2.5" font-size="7.8">&#8203;</tspan></text>
<line x1="213.00" y1="413.60" x2="213.00" y2="415.90" stroke="#1a1a1a" stroke-width="0.9"/>
<line x1="239.80" y1="413.60" x2="239.80" y2="415.90" stroke="#1a1a1a" stroke-width="0.9"/>
<text x="209.7" y="425.6" font-size="7.5" text-anchor="middle" fill="#1a1a1a" font-weight="normal" font-style="normal">NG2<tspan dy="-2.4" font-size="6.1">WT</tspan><tspan dy="2.4" font-size="7.5">&#8203;</tspan></text>
<text x="239.60000000000002" y="425.6" font-size="7.5" text-anchor="middle" fill="#1a1a1a" font-weight="normal" font-style="normal">NG2<tspan dy="-2.4" font-size="6.1">Dep</tspan><tspan dy="2.4" font-size="7.5">&#8203;</tspan></text>
<text x="209.1" y="434.6" font-size="7.5" text-anchor="middle" fill="#1a1a1a" font-weight="normal" font-style="normal"><tspan font-style="italic">n</tspan> = 21</text>
<text x="239.10000000000002" y="434.6" font-size="7.5" text-anchor="middle" fill="#1a1a1a" font-weight="normal" font-style="normal"><tspan font-style="italic">n</tspan> = 25</text>
<path d="M213,320.5 L213,317.3 L239.8,317.3 L239.8,320.5" fill="none" stroke="#1a1a1a" stroke-width="0.7"/>
<text x="226.8" y="315.0" font-size="8.0" text-anchor="middle" fill="#1a1a1a" font-weight="normal" font-style="normal"><tspan font-style="italic">P</tspan> = 0.003</text>
<text x="174.9" y="365.8" font-size="7.8" text-anchor="middle" fill="#1a1a1a" font-weight="normal" font-style="normal" transform="rotate(-90 174.9 365.8)">Hindlimbs BLI (count/s)</text>
<text x="275.8" y="305.3" font-size="10.5" text-anchor="start" fill="#000" font-weight="bold" font-style="normal">H</text>
<circle cx="319.34" cy="325.97" r="1.75" fill="none" stroke="#e03a3a" stroke-width="0.75"/>
<circle cx="325.91" cy="325.97" r="1.75" fill="none" stroke="#e03a3a" stroke-width="0.75"/>
<circle cx="319.34" cy="329.38" r="1.75" fill="none" stroke="#e03a3a" stroke-width="0.75"/>
<circle cx="325.91" cy="329.38" r="1.75" fill="none" stroke="#e03a3a" stroke-width="0.75"/>
<circle cx="322.49" cy="335.68" r="1.75" fill="none" stroke="#e03a3a" stroke-width="0.75"/>
<circle cx="316.19" cy="338.57" r="1.75" fill="none" stroke="#e03a3a" stroke-width="0.75"/>
<circle cx="322.49" cy="342.24" r="1.75" fill="none" stroke="#e03a3a" stroke-width="0.75"/>
<circle cx="329.84" cy="341.72" r="1.75" fill="none" stroke="#e03a3a" stroke-width="0.75"/>
<circle cx="319.34" cy="347.49" r="1.75" fill="none" stroke="#e03a3a" stroke-width="0.75"/>
<circle cx="325.91" cy="350.64" r="1.75" fill="none" stroke="#e03a3a" stroke-width="0.75"/>
<circle cx="322.49" cy="357.99" r="1.75" fill="none" stroke="#e03a3a" stroke-width="0.75"/>
<circle cx="316.19" cy="360.62" r="1.75" fill="none" stroke="#e03a3a" stroke-width="0.75"/>
<circle cx="325.91" cy="360.09" r="1.75" fill="none" stroke="#e03a3a" stroke-width="0.75"/>
<circle cx="329.84" cy="363.77" r="1.75" fill="none" stroke="#e03a3a" stroke-width="0.75"/>
<circle cx="322.49" cy="364.29" r="1.75" fill="none" stroke="#e03a3a" stroke-width="0.75"/>
<circle cx="318.82" cy="355.89" r="1.75" fill="none" stroke="#e03a3a" stroke-width="0.75"/>
<circle cx="322.49" cy="371.12" r="1.75" fill="none" stroke="#e03a3a" stroke-width="0.75"/>
<circle cx="319.34" cy="378.46" r="1.75" fill="none" stroke="#e03a3a" stroke-width="0.75"/>
<circle cx="325.91" cy="380.30" r="1.75" fill="none" stroke="#e03a3a" stroke-width="0.75"/>
<circle cx="322.49" cy="393.43" r="1.75" fill="none" stroke="#e03a3a" stroke-width="0.75"/>
<circle cx="328.27" cy="356.94" r="1.75" fill="none" stroke="#e03a3a" stroke-width="0.75"/>
<circle cx="347.43" cy="329.12" r="1.75" fill="none" stroke="#4a4aa8" stroke-width="0.75"/>
<circle cx="351.63" cy="330.70" r="1.75" fill="none" stroke="#4a4aa8" stroke-width="0.75"/>
<circle cx="342.18" cy="335.68" r="1.75" fill="none" stroke="#4a4aa8" stroke-width="0.75"/>
<circle cx="347.43" cy="336.99" r="1.75" fill="none" stroke="#4a4aa8" stroke-width="0.75"/>
<circle cx="352.68" cy="336.99" r="1.75" fill="none" stroke="#4a4aa8" stroke-width="0.75"/>
<circle cx="356.88" cy="338.57" r="1.75" fill="none" stroke="#4a4aa8" stroke-width="0.75"/>
<circle cx="342.18" cy="339.88" r="1.75" fill="none" stroke="#4a4aa8" stroke-width="0.75"/>
<circle cx="346.12" cy="342.51" r="1.75" fill="none" stroke="#4a4aa8" stroke-width="0.75"/>
<circle cx="353.46" cy="342.51" r="1.75" fill="none" stroke="#4a4aa8" stroke-width="0.75"/>
<circle cx="346.12" cy="351.43" r="1.75" fill="none" stroke="#4a4aa8" stroke-width="0.75"/>
<circle cx="356.61" cy="352.22" r="1.75" fill="none" stroke="#4a4aa8" stroke-width="0.75"/>
<circle cx="342.18" cy="354.32" r="1.75" fill="none" stroke="#4a4aa8" stroke-width="0.75"/>
<circle cx="348.74" cy="356.94" r="1.75" fill="none" stroke="#4a4aa8" stroke-width="0.75"/>
<circle cx="353.46" cy="356.94" r="1.75" fill="none" stroke="#4a4aa8" stroke-width="0.75"/>
<circle cx="348.74" cy="363.77" r="1.75" fill="none" stroke="#4a4aa8" stroke-width="0.75"/>
<circle cx="348.74" cy="372.69" r="1.75" fill="none" stroke="#4a4aa8" stroke-width="0.75"/>
<circle cx="344.80" cy="375.31" r="1.75" fill="none" stroke="#4a4aa8" stroke-width="0.75"/>
<circle cx="348.74" cy="378.73" r="1.75" fill="none" stroke="#4a4aa8" stroke-width="0.75"/>
<circle cx="342.18" cy="378.46" r="1.75" fill="none" stroke="#4a4aa8" stroke-width="0.75"/>
<circle cx="353.46" cy="379.51" r="1.75" fill="none" stroke="#4a4aa8" stroke-width="0.75"/>
<circle cx="344.80" cy="383.19" r="1.75" fill="none" stroke="#4a4aa8" stroke-width="0.75"/>
<circle cx="349.27" cy="383.19" r="1.75" fill="none" stroke="#4a4aa8" stroke-width="0.75"/>
<circle cx="352.68" cy="386.86" r="1.75" fill="none" stroke="#4a4aa8" stroke-width="0.75"/>
<circle cx="348.74" cy="397.89" r="1.75" fill="none" stroke="#4a4aa8" stroke-width="0.75"/>
<circle cx="346.12" cy="386.34" r="1.75" fill="none" stroke="#4a4aa8" stroke-width="0.75"/>
<line x1="322.50" y1="333.85" x2="322.50" y2="371.64" stroke="#1a1a1a" stroke-width="0.8"/>
<line x1="313.80" y1="352.22" x2="331.20" y2="352.22" stroke="#1a1a1a" stroke-width="0.9"/>
<line x1="317.80" y1="333.85" x2="327.20" y2="333.85" stroke="#1a1a1a" stroke-width="0.9"/>
<line x1="317.80" y1="371.64" x2="327.20" y2="371.64" stroke="#1a1a1a" stroke-width="0.9"/>
<line x1="348.70" y1="336.99" x2="348.70" y2="378.46" stroke="#1a1a1a" stroke-width="0.8"/>
<line x1="339.90" y1="357.99" x2="357.50" y2="357.99" stroke="#1a1a1a" stroke-width="0.9"/>
<line x1="344.20" y1="336.99" x2="353.20" y2="336.99" stroke="#1a1a1a" stroke-width="0.9"/>
<line x1="344.20" y1="378.46" x2="353.20" y2="378.46" stroke="#1a1a1a" stroke-width="0.9"/>
<line x1="306.70" y1="320.20" x2="306.70" y2="414.10" stroke="#1a1a1a" stroke-width="1.1"/>
<line x1="306.20" y1="413.60" x2="365.00" y2="413.60" stroke="#1a1a1a" stroke-width="1.1"/>
<line x1="304.50" y1="413.60" x2="306.70" y2="413.60" stroke="#1a1a1a" stroke-width="0.9"/>
<text x="303.7" y="416.5" font-size="7.8" text-anchor="end" fill="#1a1a1a" font-weight="normal" font-style="normal">10<tspan dy="-2.5" font-size="6.4">0</tspan><tspan dy="2.5" font-size="7.8">&#8203;</tspan></text>
<line x1="304.50" y1="398.12" x2="306.70" y2="398.12" stroke="#1a1a1a" stroke-width="0.9"/>
<text x="303.7" y="401.01666666666665" font-size="7.8" text-anchor="end" fill="#1a1a1a" font-weight="normal" font-style="normal">10<tspan dy="-2.5" font-size="6.4">1</tspan><tspan dy="2.5" font-size="7.8">&#8203;</tspan></text>
<line x1="304.50" y1="382.63" x2="306.70" y2="382.63" stroke="#1a1a1a" stroke-width="0.9"/>
<text x="303.7" y="385.5333333333333" font-size="7.8" text-anchor="end" fill="#1a1a1a" font-weight="normal" font-style="normal">10<tspan dy="-2.5" font-size="6.4">2</tspan><tspan dy="2.5" font-size="7.8">&#8203;</tspan></text>
<line x1="304.50" y1="367.15" x2="306.70" y2="367.15" stroke="#1a1a1a" stroke-width="0.9"/>
<text x="303.7" y="370.04999999999995" font-size="7.8" text-anchor="end" fill="#1a1a1a" font-weight="normal" font-style="normal">10<tspan dy="-2.5" font-size="6.4">3</tspan><tspan dy="2.5" font-size="7.8">&#8203;</tspan></text>
<line x1="304.50" y1="351.67" x2="306.70" y2="351.67" stroke="#1a1a1a" stroke-width="0.9"/>
<text x="303.7" y="354.56666666666666" font-size="7.8" text-anchor="end" fill="#1a1a1a" font-weight="normal" font-style="normal">10<tspan dy="-2.5" font-size="6.4">4</tspan><tspan dy="2.5" font-size="7.8">&#8203;</tspan></text>
<line x1="304.50" y1="336.18" x2="306.70" y2="336.18" stroke="#1a1a1a" stroke-width="0.9"/>
<text x="303.7" y="339.0833333333333" font-size="7.8" text-anchor="end" fill="#1a1a1a" font-weight="normal" font-style="normal">10<tspan dy="-2.5" font-size="6.4">5</tspan><tspan dy="2.5" font-size="7.8">&#8203;</tspan></text>
<line x1="304.50" y1="320.70" x2="306.70" y2="320.70" stroke="#1a1a1a" stroke-width="0.9"/>
<text x="303.7" y="323.59999999999997" font-size="7.8" text-anchor="end" fill="#1a1a1a" font-weight="normal" font-style="normal">10<tspan dy="-2.5" font-size="6.4">6</tspan><tspan dy="2.5" font-size="7.8">&#8203;</tspan></text>
<line x1="322.50" y1="413.60" x2="322.50" y2="415.90" stroke="#1a1a1a" stroke-width="0.9"/>
<line x1="348.70" y1="413.60" x2="348.70" y2="415.90" stroke="#1a1a1a" stroke-width="0.9"/>
<text x="320.5" y="425.6" font-size="7.5" text-anchor="middle" fill="#1a1a1a" font-weight="normal" font-style="normal">NG2<tspan dy="-2.4" font-size="6.1">WT</tspan><tspan dy="2.4" font-size="7.5">&#8203;</tspan></text>
<text x="349.9" y="425.6" font-size="7.5" text-anchor="middle" fill="#1a1a1a" font-weight="normal" font-style="normal">NG2<tspan dy="-2.4" font-size="6.1">Dep</tspan><tspan dy="2.4" font-size="7.5">&#8203;</tspan></text>
<text x="321.7" y="434.6" font-size="7.5" text-anchor="middle" fill="#1a1a1a" font-weight="normal" font-style="normal"><tspan font-style="italic">n</tspan> = 21</text>
<text x="350.3" y="434.6" font-size="7.5" text-anchor="middle" fill="#1a1a1a" font-weight="normal" font-style="normal"><tspan font-style="italic">n</tspan> = 25</text>
<path d="M322.5,320.5 L322.5,317.3 L348.7,317.3 L348.7,320.5" fill="none" stroke="#1a1a1a" stroke-width="0.7"/>
<text x="336.0" y="315.0" font-size="8.0" text-anchor="middle" fill="#1a1a1a" font-weight="normal" font-style="normal"><tspan font-style="italic">P</tspan> = 0.415</text>
<text x="284.7" y="366.8" font-size="7.8" text-anchor="middle" fill="#1a1a1a" font-weight="normal" font-style="normal" transform="rotate(-90 284.7 366.8)">Lung BLI (count/s)</text>
<text x="208.2" y="455.9" font-size="10.5" text-anchor="start" fill="#000" font-weight="bold" font-style="normal">G</text>
<text x="222.4" y="459.1" font-size="7.6" text-anchor="start" fill="#1a1a1a" font-weight="normal" font-style="normal">Hindlimb bones</text>
<rect x="222.8" y="463.7" width="5.6" height="5.6" fill="#ee6a6c" stroke="#222" stroke-width="0.6"/>
<text x="230.8" y="468.8" font-size="7.6" text-anchor="start" fill="#1a1a1a" font-weight="normal" font-style="normal">Both Met</text>
<rect x="270.8" y="463.7" width="5.6" height="5.6" fill="#fbd5d8" stroke="#222" stroke-width="0.6"/>
<text x="278.8" y="468.8" font-size="7.6" text-anchor="start" fill="#1a1a1a" font-weight="normal" font-style="normal">Single Met</text>
<rect x="319.2" y="463.7" width="5.6" height="5.6" fill="#c9c9ca" stroke="#222" stroke-width="0.6"/>
<text x="327.2" y="468.8" font-size="7.6" text-anchor="start" fill="#1a1a1a" font-weight="normal" font-style="normal">Both Met-free</text>
<text x="268.4" y="483.6" font-size="7.6" text-anchor="start" fill="#1a1a1a" font-weight="normal" font-style="normal"><tspan font-style="italic">P</tspan> = 0.009</text>
<path d="M247.80,513.90 L247.80,482.90 A31,31 0 1 1 218.00,505.36 Z" fill="#ee6a6c" stroke="#222" stroke-width="0.6" stroke-linejoin="round"/>
<path d="M247.80,513.90 L218.00,505.36 A31,31 0 0 1 220.95,498.40 Z" fill="#fbd5d8" stroke="#222" stroke-width="0.6" stroke-linejoin="round"/>
<path d="M247.80,513.90 L220.95,498.40 A31,31 0 0 1 247.80,482.90 Z" fill="#c9c9ca" stroke="#222" stroke-width="0.6" stroke-linejoin="round"/>
<path d="M321.00,513.90 L321.00,482.90 A31,31 0 0 1 346.70,531.23 Z" fill="#ee6a6c" stroke="#222" stroke-width="0.6" stroke-linejoin="round"/>
<path d="M321.00,513.90 L346.70,531.23 A31,31 0 0 1 310.40,543.03 Z" fill="#fbd5d8" stroke="#222" stroke-width="0.6" stroke-linejoin="round"/>
<path d="M321.00,513.90 L310.40,543.03 A31,31 0 0 1 321.00,482.90 Z" fill="#c9c9ca" stroke="#222" stroke-width="0.6" stroke-linejoin="round"/>
<text x="247.9" y="513.3" font-size="7.4" text-anchor="middle" fill="#1a1a1a" font-weight="normal" font-style="normal">NG2<tspan dy="-2.4" font-size="6.1">WT</tspan><tspan dy="2.4" font-size="7.4">&#8203;</tspan></text>
<text x="247.6" y="522.6" font-size="7.4" text-anchor="middle" fill="#1a1a1a" font-weight="normal" font-style="normal"><tspan font-style="italic">n</tspan> = 21</text>
<text x="321.8" y="513.3" font-size="7.4" text-anchor="middle" fill="#1a1a1a" font-weight="normal" font-style="normal">NG2<tspan dy="-2.4" font-size="6.1">Dep</tspan><tspan dy="2.4" font-size="7.4">&#8203;</tspan></text>
<text x="321.3" y="522.6" font-size="7.4" text-anchor="middle" fill="#1a1a1a" font-weight="normal" font-style="normal"><tspan font-style="italic">n</tspan> = 25</text>
<text x="389.7" y="153.8" font-size="10.5" text-anchor="start" fill="#000" font-weight="bold" font-style="normal">I</text>
<defs><linearGradient id="coneI" x1="0" y1="1" x2="1" y2="0"><stop offset="0" stop-color="#d3dae5"/><stop offset="1" stop-color="#a4b1c6"/></linearGradient><linearGradient id="coneJ" x1="0" y1="0" x2="1" y2="1"><stop offset="0" stop-color="#9fb0c9"/><stop offset="1" stop-color="#c9d2e0"/></linearGradient></defs>
<polygon points="410,196.5 432,164.5 450.5,186.3" fill="url(#coneI)"/>
<circle cx="449" cy="169" r="17.4" fill="#ffffff" stroke="#9a9a9a" stroke-width="0.8"/>
<g fill="none" stroke-linecap="round" transform="translate(0,0.7)"><path d="M438.3,176 C440.5,173.5 442.5,171.8 444.6,170.2 C447,168.4 449.5,167 451.5,165.5 C453.6,163.8 455.2,162.4 456.2,160.8 C457.4,159 458.1,157.4 458.6,155.6" stroke="#a24a34" stroke-width="1.0"/><path d="M440.5,175.2 C443,173 446,171.2 449,169.4 C452,167.6 454.8,165.4 457,162.6" stroke="#b9604a" stroke-width="0.55"/><path d="M456.2,160.8 L451.2,158.6 M457.8,157.6 L453,155.8 M454,163.2 L448.6,162.6 M451.5,165.5 L447.5,165.8 M458.2,159.2 L461,158.2 M456.4,162.8 L459.8,162.2 M455.6,164 L457.4,167 L456.6,168.6" stroke="#b04434" stroke-width="0.7"/><path d="M438.3,176 L437.4,178.2" stroke="#a24a34" stroke-width="0.6"/><path d="M443.6,175.6 L443.7,177.6" stroke="#5f9a78" stroke-width="0.6"/><path d="M479.3,158 L465.4,162.6" stroke="#b4b9c1" stroke-width="0.9"/><path d="M465.6,162.5 L456.8,165.5" stroke="#4f9a80" stroke-width="0.9"/></g>
<text x="451.1" y="178.9" font-size="6.8" text-anchor="start" fill="#333" font-weight="bold" font-style="normal">IIA</text>
<g transform="translate(396.8,202) scale(0.9888888888888889,0.9888888888888889)"><path d="M-7.2,-9.6 C-5.5,-6.5 -3,-4.2 1.6,-4" fill="none" stroke="#b9abaa" stroke-width="0.75" stroke-linecap="round"/><path d="M0.9,-1.8 C0.2,-4.2 1.6,-6.8 4.6,-8 C7.4,-9 10.2,-8.7 12.4,-7.4 C12.8,-8.9 14.4,-9.2 14.9,-7.6 C16.4,-6.8 17.6,-5.6 18.1,-4.5 C17.2,-3.4 15.6,-3 14.2,-2.9 L14.6,-0.3 L13.2,-0.1 L12.6,-2.2 C10.5,-1.6 8,-1.5 6,-1.7 L6.4,-0.1 L3.4,0 L3.2,-1.1 C2.2,-1.1 1.4,-1.3 0.9,-1.8 Z" fill="#878384"/></g>
<text x="417.2" y="202" font-size="7.5" text-anchor="start" fill="#e8212b" font-weight="normal" font-style="normal">DT</text>
<text x="505.8" y="202.3" font-size="7.6" text-anchor="start" fill="#1a1a1a" font-weight="normal" font-style="normal">BLI</text>
<line x1="404.00" y1="212.80" x2="511.00" y2="212.80" stroke="#1a1a1a" stroke-width="1.4"/>
<polygon points="516.2,212.7 510,210.5 510,214.9" fill="#1a1a1a"/>
<line x1="404.20" y1="204.00" x2="404.20" y2="211.20" stroke="#1a1a1a" stroke-width="1.0"/>
<polygon points="404.20,211.20 402.55,208.34 405.85,208.34" fill="#1a1a1a"/>
<line x1="409.20" y1="204.00" x2="409.20" y2="211.20" stroke="#e8212b" stroke-width="1.0"/>
<polygon points="409.20,211.20 407.55,208.34 410.85,208.34" fill="#e8212b"/>
<line x1="414.50" y1="204.00" x2="414.50" y2="211.20" stroke="#e8212b" stroke-width="1.0"/>
<polygon points="414.50,211.20 412.85,208.34 416.15,208.34" fill="#e8212b"/>
<line x1="419.80" y1="204.00" x2="419.80" y2="211.20" stroke="#e8212b" stroke-width="1.0"/>
<polygon points="419.80,211.20 418.15,208.34 421.45,208.34" fill="#e8212b"/>
<line x1="425.60" y1="204.00" x2="425.60" y2="211.20" stroke="#1a1a1a" stroke-width="1.0"/>
<polygon points="425.60,211.20 423.95,208.34 427.25,208.34" fill="#1a1a1a"/>
<line x1="446.80" y1="204.00" x2="446.80" y2="211.20" stroke="#1a1a1a" stroke-width="1.0"/>
<polygon points="446.80,211.20 445.15,208.34 448.45,208.34" fill="#1a1a1a"/>
<line x1="468.30" y1="204.00" x2="468.30" y2="211.20" stroke="#1a1a1a" stroke-width="1.0"/>
<polygon points="468.30,211.20 466.65,208.34 469.95,208.34" fill="#1a1a1a"/>
<line x1="489.60" y1="204.00" x2="489.60" y2="211.20" stroke="#1a1a1a" stroke-width="1.0"/>
<polygon points="489.60,211.20 487.95,208.34 491.25,208.34" fill="#1a1a1a"/>
<line x1="511.10" y1="204.00" x2="511.10" y2="211.20" stroke="#1a1a1a" stroke-width="1.0"/>
<polygon points="511.10,211.20 509.45,208.34 512.75,208.34" fill="#1a1a1a"/>
<text x="395.8" y="222.2" font-size="7.6" text-anchor="start" fill="#1a1a1a" font-weight="normal" font-style="normal">d.0</text>
<text x="425.6" y="222.2" font-size="7.6" text-anchor="middle" fill="#1a1a1a" font-weight="normal" font-style="normal">4</text>
<text x="446.8" y="222.2" font-size="7.6" text-anchor="middle" fill="#1a1a1a" font-weight="normal" font-style="normal">8</text>
<text x="468.3" y="222.2" font-size="7.6" text-anchor="middle" fill="#1a1a1a" font-weight="normal" font-style="normal">12</text>
<text x="489.6" y="222.2" font-size="7.6" text-anchor="middle" fill="#1a1a1a" font-weight="normal" font-style="normal">16</text>
<text x="511.1" y="222.2" font-size="7.6" text-anchor="middle" fill="#1a1a1a" font-weight="normal" font-style="normal">20</text>
<clipPath id="c252349563"><rect x="415.4" y="230" width="99.0" height="96.19999999999999"/></clipPath>
<g clip-path="url(#c252349563)">
<polyline points="418.00,325.70 436.68,325.68 455.36,324.65 474.04,315.44 492.72,277.07 511.40,114.88" fill="none" stroke="#f6b6b0" stroke-width="0.95" stroke-linejoin="round" stroke-linecap="round" stroke-dasharray="0.1 2.3"/>
<polyline points="418.00,325.70 436.68,325.70 455.36,325.68 474.04,323.99 492.72,310.41 511.40,147.67" fill="none" stroke="#f6b6b0" stroke-width="0.95" stroke-linejoin="round" stroke-linecap="round" stroke-dasharray="0.1 2.3"/>
<polyline points="418.00,325.70 436.68,325.70 455.36,325.67 474.04,324.50 492.72,305.04 511.40,175.78" fill="none" stroke="#f6b6b0" stroke-width="0.95" stroke-linejoin="round" stroke-linecap="round" stroke-dasharray="0.1 2.3"/>
<polyline points="418.00,325.70 436.68,325.70 455.36,325.56 474.04,322.69 492.72,292.51 511.40,194.52" fill="none" stroke="#f6b6b0" stroke-width="0.95" stroke-linejoin="round" stroke-linecap="round" stroke-dasharray="0.1 2.3"/>
<polyline points="418.00,325.70 436.68,325.70 455.36,325.69 474.04,325.14 492.72,315.97 511.40,213.26" fill="none" stroke="#f6b6b0" stroke-width="0.95" stroke-linejoin="round" stroke-linecap="round" stroke-dasharray="0.1 2.3"/>
<polyline points="418.00,325.70 436.68,325.69 455.36,325.04 474.04,320.00 492.72,298.26 511.40,227.31" fill="none" stroke="#f6b6b0" stroke-width="0.95" stroke-linejoin="round" stroke-linecap="round" stroke-dasharray="0.1 2.3"/>
<polyline points="418.00,325.70 436.68,325.68 455.36,324.93 474.04,320.52 492.72,294.44 511.40,236.69" fill="none" stroke="#f6b6b0" stroke-width="0.95" stroke-linejoin="round" stroke-linecap="round" stroke-dasharray="0.1 2.3"/>
<polyline points="418.00,325.70 436.68,325.70 455.36,325.68 474.04,324.70 492.72,315.97 511.40,246.06" fill="none" stroke="#f6b6b0" stroke-width="0.95" stroke-linejoin="round" stroke-linecap="round" stroke-dasharray="0.1 2.3"/>
<polyline points="418.00,325.70 436.68,325.70 455.36,325.68 474.04,325.01 492.72,316.27 511.40,255.43" fill="none" stroke="#f6b6b0" stroke-width="0.95" stroke-linejoin="round" stroke-linecap="round" stroke-dasharray="0.1 2.3"/>
<polyline points="418.00,325.70 436.68,325.70 455.36,325.66 474.04,324.46 492.72,314.49 511.40,264.80" fill="none" stroke="#f6b6b0" stroke-width="0.95" stroke-linejoin="round" stroke-linecap="round" stroke-dasharray="0.1 2.3"/>
<polyline points="418.00,325.70 436.68,325.70 455.36,325.58 474.04,324.28 492.72,312.22 511.40,274.16" fill="none" stroke="#f6b6b0" stroke-width="0.95" stroke-linejoin="round" stroke-linecap="round" stroke-dasharray="0.1 2.3"/>
<polyline points="418.00,325.70 436.68,325.70 455.36,325.69 474.04,325.21 492.72,320.92 511.40,283.53" fill="none" stroke="#f6b6b0" stroke-width="0.95" stroke-linejoin="round" stroke-linecap="round" stroke-dasharray="0.1 2.3"/>
<polyline points="418.00,325.70 436.68,325.70 455.36,325.70 474.04,325.46 492.72,322.57 511.40,288.22" fill="none" stroke="#f6b6b0" stroke-width="0.95" stroke-linejoin="round" stroke-linecap="round" stroke-dasharray="0.1 2.3"/>
<polyline points="418.00,325.70 436.68,325.70 455.36,325.68 474.04,325.11 492.72,319.95 511.40,292.90" fill="none" stroke="#f6b6b0" stroke-width="0.95" stroke-linejoin="round" stroke-linecap="round" stroke-dasharray="0.1 2.3"/>
<polyline points="418.00,325.70 436.68,325.69 455.36,325.40 474.04,323.93 492.72,315.59 511.40,297.59" fill="none" stroke="#f6b6b0" stroke-width="0.95" stroke-linejoin="round" stroke-linecap="round" stroke-dasharray="0.1 2.3"/>
<polyline points="418.00,325.70 436.68,325.69 455.36,325.54 474.04,324.37 492.72,319.07 511.40,302.27" fill="none" stroke="#f6b6b0" stroke-width="0.95" stroke-linejoin="round" stroke-linecap="round" stroke-dasharray="0.1 2.3"/>
<polyline points="418.00,325.70 436.68,325.70 455.36,325.63 474.04,324.76 492.72,320.50 511.40,306.96" fill="none" stroke="#f6b6b0" stroke-width="0.95" stroke-linejoin="round" stroke-linecap="round" stroke-dasharray="0.1 2.3"/>
<polyline points="418.00,325.70 436.68,325.70 455.36,325.70 474.04,325.62 492.72,324.53 511.40,311.64" fill="none" stroke="#f6b6b0" stroke-width="0.95" stroke-linejoin="round" stroke-linecap="round" stroke-dasharray="0.1 2.3"/>
<polyline points="418.00,325.70 436.68,325.70 455.36,325.69 474.04,325.36 492.72,323.48 511.40,313.99" fill="none" stroke="#f6b6b0" stroke-width="0.95" stroke-linejoin="round" stroke-linecap="round" stroke-dasharray="0.1 2.3"/>
<polyline points="418.00,325.70 436.68,325.70 455.36,325.70 474.04,325.65 492.72,324.83 511.40,316.33" fill="none" stroke="#f6b6b0" stroke-width="0.95" stroke-linejoin="round" stroke-linecap="round" stroke-dasharray="0.1 2.3"/>
<polyline points="418.00,325.70 436.68,325.70 455.36,325.70 474.04,325.59 492.72,324.68 511.40,318.67" fill="none" stroke="#f6b6b0" stroke-width="0.95" stroke-linejoin="round" stroke-linecap="round" stroke-dasharray="0.1 2.3"/>
<polyline points="418.00,325.70 436.68,325.70 455.36,325.64 474.04,325.40 492.72,324.01 511.40,321.01" fill="none" stroke="#f6b6b0" stroke-width="0.95" stroke-linejoin="round" stroke-linecap="round" stroke-dasharray="0.1 2.3"/>
<polyline points="418.00,325.70 436.68,325.70 455.36,325.69 474.04,325.57 492.72,324.97 511.40,321.95" fill="none" stroke="#f6b6b0" stroke-width="0.95" stroke-linejoin="round" stroke-linecap="round" stroke-dasharray="0.1 2.3"/>
<polyline points="418.00,325.70 436.68,325.70 455.36,325.70 474.04,325.69 492.72,325.46 511.40,323.36" fill="none" stroke="#f6b6b0" stroke-width="0.95" stroke-linejoin="round" stroke-linecap="round" stroke-dasharray="0.1 2.3"/>
<polyline points="418.00,325.70 436.68,325.70 455.36,325.70 474.04,325.69 492.72,325.55 511.40,324.29" fill="none" stroke="#f6b6b0" stroke-width="0.95" stroke-linejoin="round" stroke-linecap="round" stroke-dasharray="0.1 2.3"/>
<polyline points="418.00,325.70 436.68,325.70 455.36,325.70 474.04,325.67 492.72,325.51 511.40,324.76" fill="none" stroke="#f6b6b0" stroke-width="0.95" stroke-linejoin="round" stroke-linecap="round" stroke-dasharray="0.1 2.3"/>
<polyline points="418.00,325.70 436.68,325.70 455.36,325.69 474.04,325.10 492.72,318.56 511.40,250.74" fill="none" stroke="#bcb9e0" stroke-width="0.95" stroke-linejoin="round" stroke-linecap="round" stroke-dasharray="0.1 2.3"/>
<polyline points="418.00,325.70 436.68,325.70 455.36,325.66 474.04,325.01 492.72,315.03 511.40,269.48" fill="none" stroke="#bcb9e0" stroke-width="0.95" stroke-linejoin="round" stroke-linecap="round" stroke-dasharray="0.1 2.3"/>
<polyline points="418.00,325.70 436.68,325.70 455.36,325.68 474.04,325.15 492.72,319.84 511.40,283.53" fill="none" stroke="#bcb9e0" stroke-width="0.95" stroke-linejoin="round" stroke-linecap="round" stroke-dasharray="0.1 2.3"/>
<polyline points="418.00,325.70 436.68,325.70 455.36,325.69 474.04,325.24 492.72,320.02 511.40,292.90" fill="none" stroke="#bcb9e0" stroke-width="0.95" stroke-linejoin="round" stroke-linecap="round" stroke-dasharray="0.1 2.3"/>
<polyline points="418.00,325.70 436.68,325.70 455.36,325.48 474.04,323.63 492.72,316.48 511.40,297.59" fill="none" stroke="#bcb9e0" stroke-width="0.95" stroke-linejoin="round" stroke-linecap="round" stroke-dasharray="0.1 2.3"/>
<polyline points="418.00,325.70 436.68,325.70 455.36,325.70 474.04,325.62 492.72,323.82 511.40,302.27" fill="none" stroke="#bcb9e0" stroke-width="0.95" stroke-linejoin="round" stroke-linecap="round" stroke-dasharray="0.1 2.3"/>
<polyline points="418.00,325.70 436.68,325.70 455.36,325.60 474.04,324.79 492.72,319.49 511.40,306.96" fill="none" stroke="#bcb9e0" stroke-width="0.95" stroke-linejoin="round" stroke-linecap="round" stroke-dasharray="0.1 2.3"/>
<polyline points="418.00,325.70 436.68,325.70 455.36,325.64 474.04,325.05 492.72,322.37 511.40,309.30" fill="none" stroke="#bcb9e0" stroke-width="0.95" stroke-linejoin="round" stroke-linecap="round" stroke-dasharray="0.1 2.3"/>
<polyline points="418.00,325.70 436.68,325.70 455.36,325.70 474.04,325.61 492.72,324.09 511.40,311.64" fill="none" stroke="#bcb9e0" stroke-width="0.95" stroke-linejoin="round" stroke-linecap="round" stroke-dasharray="0.1 2.3"/>
<polyline points="418.00,325.70 436.68,325.70 455.36,325.70 474.04,325.64 492.72,324.04 511.40,313.99" fill="none" stroke="#bcb9e0" stroke-width="0.95" stroke-linejoin="round" stroke-linecap="round" stroke-dasharray="0.1 2.3"/>
<polyline points="418.00,325.70 436.68,325.70 455.36,325.70 474.04,325.62 492.72,324.17 511.40,316.33" fill="none" stroke="#bcb9e0" stroke-width="0.95" stroke-linejoin="round" stroke-linecap="round" stroke-dasharray="0.1 2.3"/>
<polyline points="418.00,325.70 436.68,325.70 455.36,325.70 474.04,325.65 492.72,324.96 511.40,318.67" fill="none" stroke="#bcb9e0" stroke-width="0.95" stroke-linejoin="round" stroke-linecap="round" stroke-dasharray="0.1 2.3"/>
<polyline points="418.00,325.70 436.68,325.70 455.36,325.66 474.04,325.32 492.72,324.46 511.40,320.08" fill="none" stroke="#bcb9e0" stroke-width="0.95" stroke-linejoin="round" stroke-linecap="round" stroke-dasharray="0.1 2.3"/>
<polyline points="418.00,325.70 436.68,325.70 455.36,325.69 474.04,325.59 492.72,325.00 511.40,321.01" fill="none" stroke="#bcb9e0" stroke-width="0.95" stroke-linejoin="round" stroke-linecap="round" stroke-dasharray="0.1 2.3"/>
<polyline points="418.00,325.70 436.68,325.70 455.36,325.68 474.04,325.53 492.72,324.68 511.40,321.95" fill="none" stroke="#bcb9e0" stroke-width="0.95" stroke-linejoin="round" stroke-linecap="round" stroke-dasharray="0.1 2.3"/>
<polyline points="418.00,325.70 436.68,325.70 455.36,325.70 474.04,325.67 492.72,325.35 511.40,322.89" fill="none" stroke="#bcb9e0" stroke-width="0.95" stroke-linejoin="round" stroke-linecap="round" stroke-dasharray="0.1 2.3"/>
<polyline points="418.00,325.70 436.68,325.70 455.36,325.70 474.04,325.69 492.72,325.40 511.40,323.36" fill="none" stroke="#bcb9e0" stroke-width="0.95" stroke-linejoin="round" stroke-linecap="round" stroke-dasharray="0.1 2.3"/>
<polyline points="418.00,325.70 436.68,325.70 455.36,325.69 474.04,325.64 492.72,325.37 511.40,324.29" fill="none" stroke="#bcb9e0" stroke-width="0.95" stroke-linejoin="round" stroke-linecap="round" stroke-dasharray="0.1 2.3"/>
<polyline points="418.00,325.70 436.68,325.70 455.36,325.69 474.04,325.63 492.72,325.39 511.40,324.76" fill="none" stroke="#bcb9e0" stroke-width="0.95" stroke-linejoin="round" stroke-linecap="round" stroke-dasharray="0.1 2.3"/>
<polyline points="418.00,325.70 436.68,325.70 455.36,325.70 474.04,325.68 492.72,325.57 511.40,325.23" fill="none" stroke="#bcb9e0" stroke-width="0.95" stroke-linejoin="round" stroke-linecap="round" stroke-dasharray="0.1 2.3"/>
</g>
<line x1="511.40" y1="290.56" x2="511.40" y2="249.80" stroke="#1a1a1a" stroke-width="0.8"/>
<line x1="492.72" y1="319.61" x2="492.72" y2="301.34" stroke="#1a1a1a" stroke-width="0.8"/>
<line x1="511.40" y1="317.27" x2="511.40" y2="306.02" stroke="#1a1a1a" stroke-width="0.8"/>
<polyline points="418.00,325.70 436.68,325.70 455.36,325.70 474.04,325.23 492.72,323.83 511.40,311.64" fill="none" stroke="#3d3fa3" stroke-width="2.3" stroke-linejoin="round" stroke-linecap="round"/>
<circle cx="418.00" cy="325.70" r="1.25" fill="#8a8ad0" stroke="#3d3fa3" stroke-width="0.55"/>
<circle cx="436.68" cy="325.70" r="1.25" fill="#8a8ad0" stroke="#3d3fa3" stroke-width="0.55"/>
<circle cx="455.36" cy="325.70" r="1.25" fill="#8a8ad0" stroke="#3d3fa3" stroke-width="0.55"/>
<circle cx="474.04" cy="325.23" r="1.25" fill="#8a8ad0" stroke="#3d3fa3" stroke-width="0.55"/>
<circle cx="492.72" cy="323.83" r="1.25" fill="#8a8ad0" stroke="#3d3fa3" stroke-width="0.55"/>
<circle cx="511.40" cy="311.64" r="1.25" fill="#8a8ad0" stroke="#3d3fa3" stroke-width="0.55"/>
<polyline points="418.00,325.70 436.68,325.70 455.36,325.23 474.04,323.36 492.72,310.24 511.40,270.89" fill="none" stroke="#e8212b" stroke-width="2.3" stroke-linejoin="round" stroke-linecap="round"/>
<circle cx="418.00" cy="325.70" r="1.25" fill="#f8a09c" stroke="#e8212b" stroke-width="0.55"/>
<circle cx="436.68" cy="325.70" r="1.25" fill="#f8a09c" stroke="#e8212b" stroke-width="0.55"/>
<circle cx="455.36" cy="325.23" r="1.25" fill="#f8a09c" stroke="#e8212b" stroke-width="0.55"/>
<circle cx="474.04" cy="323.36" r="1.25" fill="#f8a09c" stroke="#e8212b" stroke-width="0.55"/>
<circle cx="492.72" cy="310.24" r="1.25" fill="#f8a09c" stroke="#e8212b" stroke-width="0.55"/>
<circle cx="511.40" cy="270.89" r="1.25" fill="#f8a09c" stroke="#e8212b" stroke-width="0.55"/>
<line x1="415.40" y1="231.50" x2="415.40" y2="326.20" stroke="#1a1a1a" stroke-width="1.1"/>
<line x1="414.90" y1="325.70" x2="512.50" y2="325.70" stroke="#1a1a1a" stroke-width="1.1"/>
<line x1="413.20" y1="325.70" x2="415.40" y2="325.70" stroke="#1a1a1a" stroke-width="0.9"/>
<text x="412.7" y="328.472" font-size="7.7" text-anchor="end" fill="#1a1a1a" font-weight="normal" font-style="normal">0.0</text>
<line x1="413.20" y1="302.27" x2="415.40" y2="302.27" stroke="#1a1a1a" stroke-width="0.9"/>
<text x="412.7" y="305.04699999999997" font-size="7.7" text-anchor="end" fill="#1a1a1a" font-weight="normal" font-style="normal">0.5</text>
<line x1="413.20" y1="278.85" x2="415.40" y2="278.85" stroke="#1a1a1a" stroke-width="0.9"/>
<text x="412.7" y="281.622" font-size="7.7" text-anchor="end" fill="#1a1a1a" font-weight="normal" font-style="normal">1.0</text>
<line x1="413.20" y1="255.43" x2="415.40" y2="255.43" stroke="#1a1a1a" stroke-width="0.9"/>
<text x="412.7" y="258.197" font-size="7.7" text-anchor="end" fill="#1a1a1a" font-weight="normal" font-style="normal">1.5</text>
<line x1="413.20" y1="232.00" x2="415.40" y2="232.00" stroke="#1a1a1a" stroke-width="0.9"/>
<text x="412.7" y="234.772" font-size="7.7" text-anchor="end" fill="#1a1a1a" font-weight="normal" font-style="normal">2.0</text>
<line x1="418.00" y1="325.70" x2="418.00" y2="328.10" stroke="#1a1a1a" stroke-width="0.9"/>
<text x="418.0" y="335" font-size="7.7" text-anchor="middle" fill="#1a1a1a" font-weight="normal" font-style="normal">0</text>
<line x1="436.68" y1="325.70" x2="436.68" y2="328.10" stroke="#1a1a1a" stroke-width="0.9"/>
<text x="436.68" y="335" font-size="7.7" text-anchor="middle" fill="#1a1a1a" font-weight="normal" font-style="normal">4</text>
<line x1="455.36" y1="325.70" x2="455.36" y2="328.10" stroke="#1a1a1a" stroke-width="0.9"/>
<text x="455.36" y="335" font-size="7.7" text-anchor="middle" fill="#1a1a1a" font-weight="normal" font-style="normal">8</text>
<line x1="474.04" y1="325.70" x2="474.04" y2="328.10" stroke="#1a1a1a" stroke-width="0.9"/>
<text x="474.04" y="335" font-size="7.7" text-anchor="middle" fill="#1a1a1a" font-weight="normal" font-style="normal">12</text>
<line x1="492.72" y1="325.70" x2="492.72" y2="328.10" stroke="#1a1a1a" stroke-width="0.9"/>
<text x="492.72" y="335" font-size="7.7" text-anchor="middle" fill="#1a1a1a" font-weight="normal" font-style="normal">16</text>
<line x1="511.40" y1="325.70" x2="511.40" y2="328.10" stroke="#1a1a1a" stroke-width="0.9"/>
<text x="511.4" y="335" font-size="7.7" text-anchor="middle" fill="#1a1a1a" font-weight="normal" font-style="normal">20</text>
<text x="401" y="335" font-size="7.5" text-anchor="middle" fill="#1a1a1a" font-weight="normal" font-style="normal">d.</text>
<text x="398.6" y="279" font-size="7.7" text-anchor="middle" fill="#1a1a1a" font-weight="normal" font-style="normal" transform="rotate(-90 398.6 279)">Normalized BLI (×10<tspan dy="-2.5" font-size="6.3">3</tspan><tspan dy="2.5" font-size="7.7">&#8203;</tspan>)</text>
<line x1="419.50" y1="237.20" x2="428.80" y2="237.20" stroke="#f28b86" stroke-width="1.4"/>
<circle cx="424.1" cy="237.2" r="1.6" fill="#f6c6c2" stroke="#f28b86" stroke-width="0.7"/>
<text x="431.6" y="240.0" font-size="7.6" text-anchor="start" fill="#1a1a1a" font-weight="normal" font-style="normal">NG2<tspan dy="-2.4" font-size="6.2">WT</tspan><tspan dy="2.4" font-size="7.6">&#8203;</tspan> <tspan font-style="italic">n</tspan> = 26</text>
<line x1="419.50" y1="247.60" x2="428.80" y2="247.60" stroke="#3d3fa3" stroke-width="1.4"/>
<circle cx="424.1" cy="247.6" r="1.6" fill="#5b5bb5" stroke="#3d3fa3" stroke-width="0.7"/>
<text x="431.6" y="250.4" font-size="7.6" text-anchor="start" fill="#1a1a1a" font-weight="normal" font-style="normal">NG2<tspan dy="-2.4" font-size="6.2">Dep</tspan><tspan dy="2.4" font-size="7.6">&#8203;</tspan> <tspan font-style="italic">n</tspan> = 20</text>
<text x="487.3" y="244.6" font-size="7.6" text-anchor="start" fill="#1a1a1a" font-weight="normal" font-style="normal"><tspan font-style="italic">P</tspan> &lt; 0.001</text>
<rect x="420.3" y="260.2" width="40.6" height="52.4" fill="#ffffff" stroke="#222" stroke-width="0.8" stroke-dasharray="1 0.8"/>
<text x="447.4" y="266.8" font-size="4.7" text-anchor="middle" fill="#1a1a1a" font-weight="normal" font-style="normal">Day 4</text>
<text x="427.3" y="286" font-size="6.4" text-anchor="middle" fill="#1a1a1a" font-weight="normal" font-style="normal" transform="rotate(-90 427.3 286)">Normalized BLI</text>
<line x1="437.40" y1="269.20" x2="437.40" y2="277.20" stroke="#444" stroke-width="0.5"/>
<line x1="437.40" y1="280.60" x2="437.40" y2="302.80" stroke="#444" stroke-width="0.5"/>
<line x1="437.40" y1="302.80" x2="459.80" y2="302.80" stroke="#444" stroke-width="0.5"/>
<line x1="436.20" y1="269.80" x2="437.40" y2="269.80" stroke="#444" stroke-width="0.4"/>
<text x="435.7" y="271.2" font-size="3.8" text-anchor="end" fill="#444" font-weight="normal" font-style="normal">25</text>
<line x1="436.20" y1="275.60" x2="437.40" y2="275.60" stroke="#444" stroke-width="0.4"/>
<text x="435.7" y="277.0" font-size="3.8" text-anchor="end" fill="#444" font-weight="normal" font-style="normal">20</text>
<line x1="436.20" y1="283.90" x2="437.40" y2="283.90" stroke="#444" stroke-width="0.4"/>
<text x="435.7" y="285.29999999999995" font-size="3.8" text-anchor="end" fill="#444" font-weight="normal" font-style="normal">4</text>
<line x1="436.20" y1="293.20" x2="437.40" y2="293.20" stroke="#444" stroke-width="0.4"/>
<text x="435.7" y="294.59999999999997" font-size="3.8" text-anchor="end" fill="#444" font-weight="normal" font-style="normal">2</text>
<line x1="436.20" y1="302.60" x2="437.40" y2="302.60" stroke="#444" stroke-width="0.4"/>
<text x="435.7" y="304.0" font-size="3.8" text-anchor="end" fill="#444" font-weight="normal" font-style="normal">0</text>
<line x1="437.40" y1="269.80" x2="440.00" y2="269.80" stroke="#7a8aa0" stroke-width="0.5"/>
<line x1="437.40" y1="275.60" x2="441.00" y2="275.60" stroke="#7a8aa0" stroke-width="0.5"/>
<line x1="437.40" y1="283.90" x2="441.00" y2="283.90" stroke="#7a8aa0" stroke-width="0.5"/>
<text x="444.1" y="308" font-size="4.7" text-anchor="middle" fill="#1a1a1a" font-weight="normal" font-style="normal">WT</text>
<text x="453.1" y="308" font-size="4.7" text-anchor="middle" fill="#1a1a1a" font-weight="normal" font-style="normal">Dep</text>
<path d="M443.0,301.2 l1.0,1.8 l-2.0,0 Z" fill="#e23a3a" opacity="0.9"/>
<path d="M444.3,296.3 l1.0,1.8 l-2.0,0 Z" fill="#e23a3a" opacity="0.9"/>
<path d="M440.9,300.5 l1.0,1.8 l-2.0,0 Z" fill="#e23a3a" opacity="0.9"/>
<path d="M446.0,300.5 l1.0,1.8 l-2.0,0 Z" fill="#e23a3a" opacity="0.9"/>
<path d="M447.2,301.4 l1.0,1.8 l-2.0,0 Z" fill="#e23a3a" opacity="0.9"/>
<path d="M443.7,298.5 l1.0,1.8 l-2.0,0 Z" fill="#e23a3a" opacity="0.9"/>
<path d="M444.7,299.1 l1.0,1.8 l-2.0,0 Z" fill="#e23a3a" opacity="0.9"/>
<path d="M442.3,297.5 l1.0,1.8 l-2.0,0 Z" fill="#e23a3a" opacity="0.9"/>
<path d="M444.0,296.0 l1.0,1.8 l-2.0,0 Z" fill="#e23a3a" opacity="0.9"/>
<path d="M444.7,295.3 l1.0,1.8 l-2.0,0 Z" fill="#e23a3a" opacity="0.9"/>
<path d="M445.6,300.9 l1.0,1.8 l-2.0,0 Z" fill="#e23a3a" opacity="0.9"/>
<path d="M444.5,300.3 l1.0,1.8 l-2.0,0 Z" fill="#e23a3a" opacity="0.9"/>
<path d="M446.3,301.3 l1.0,1.8 l-2.0,0 Z" fill="#e23a3a" opacity="0.9"/>
<path d="M443.7,300.6 l1.0,1.8 l-2.0,0 Z" fill="#e23a3a" opacity="0.9"/>
<path d="M445.2,299.9 l1.0,1.8 l-2.0,0 Z" fill="#e23a3a" opacity="0.9"/>
<path d="M444.8,293.1 l1.0,1.8 l-2.0,0 Z" fill="#e23a3a" opacity="0.9"/>
<path d="M443.7,295.6 l1.0,1.8 l-2.0,0 Z" fill="#e23a3a" opacity="0.9"/>
<path d="M445.8,297.0 l1.0,1.8 l-2.0,0 Z" fill="#e23a3a" opacity="0.9"/>
<path d="M441.7,300.2 l1.0,1.8 l-2.0,0 Z" fill="#e23a3a" opacity="0.9"/>
<path d="M442.2,300.3 l1.0,1.8 l-2.0,0 Z" fill="#e23a3a" opacity="0.9"/>
<path d="M444.5,297.2 l1.0,1.8 l-2.0,0 Z" fill="#e23a3a" opacity="0.9"/>
<path d="M442.7,300.6 l1.0,1.8 l-2.0,0 Z" fill="#e23a3a" opacity="0.9"/>
<path d="M443.2,297.5 l1.0,1.8 l-2.0,0 Z" fill="#e23a3a" opacity="0.9"/>
<path d="M444.5,301.4 l1.0,1.8 l-2.0,0 Z" fill="#e23a3a" opacity="0.9"/>
<path d="M444.4,293.7 l1.0,1.8 l-2.0,0 Z" fill="#e23a3a" opacity="0.9"/>
<path d="M445.7,297.0 l1.0,1.8 l-2.0,0 Z" fill="#e23a3a" opacity="0.9"/>
<path d="M444.3,293.6 l1.0,1.8 l-2.0,0 Z" fill="#e23a3a" opacity="0.9"/>
<path d="M443.5,291.5 l1.0,1.8 l-2.0,0 Z" fill="#e23a3a" opacity="0.9"/>
<path d="M445.1,294.6 l1.0,1.8 l-2.0,0 Z" fill="#e23a3a" opacity="0.9"/>
<path d="M444.1,293.3 l1.0,1.8 l-2.0,0 Z" fill="#e23a3a" opacity="0.9"/>
<path d="M443.9,272.8 l1.0,1.8 l-2.0,0 Z" fill="#f3a79c"/>
<path d="M443.9,285.2 l1.0,1.8 l-2.0,0 Z" fill="#f3a79c"/>
<path d="M443.9,288.8 l1.0,1.8 l-2.0,0 Z" fill="#f3a79c"/>
<path d="M455.2,302.9 l0.95,-1.7 l-1.9,0 Z" fill="#4a4aa8" opacity="0.85"/>
<path d="M453.6,300.8 l0.95,-1.7 l-1.9,0 Z" fill="#4a4aa8" opacity="0.85"/>
<path d="M455.4,303.2 l0.95,-1.7 l-1.9,0 Z" fill="#4a4aa8" opacity="0.85"/>
<path d="M455.9,302.1 l0.95,-1.7 l-1.9,0 Z" fill="#4a4aa8" opacity="0.85"/>
<path d="M453.0,297.4 l0.95,-1.7 l-1.9,0 Z" fill="#4a4aa8" opacity="0.85"/>
<path d="M451.9,299.7 l0.95,-1.7 l-1.9,0 Z" fill="#4a4aa8" opacity="0.85"/>
<path d="M455.2,301.6 l0.95,-1.7 l-1.9,0 Z" fill="#4a4aa8" opacity="0.85"/>
<path d="M452.1,296.9 l0.95,-1.7 l-1.9,0 Z" fill="#4a4aa8" opacity="0.85"/>
<path d="M454.5,302.6 l0.95,-1.7 l-1.9,0 Z" fill="#4a4aa8" opacity="0.85"/>
<path d="M452.4,302.7 l0.95,-1.7 l-1.9,0 Z" fill="#4a4aa8" opacity="0.85"/>
<path d="M453.3,295.3 l0.95,-1.7 l-1.9,0 Z" fill="#4a4aa8" opacity="0.85"/>
<path d="M454.3,295.9 l0.95,-1.7 l-1.9,0 Z" fill="#4a4aa8" opacity="0.85"/>
<path d="M453.9,302.9 l0.95,-1.7 l-1.9,0 Z" fill="#4a4aa8" opacity="0.85"/>
<path d="M450.9,302.0 l0.95,-1.7 l-1.9,0 Z" fill="#4a4aa8" opacity="0.85"/>
<path d="M453.9,302.2 l0.95,-1.7 l-1.9,0 Z" fill="#4a4aa8" opacity="0.85"/>
<path d="M451.9,299.6 l0.95,-1.7 l-1.9,0 Z" fill="#4a4aa8" opacity="0.85"/>
<path d="M452.9,295.7 l0.95,-1.7 l-1.9,0 Z" fill="#4a4aa8" opacity="0.85"/>
<path d="M455.5,301.4 l0.95,-1.7 l-1.9,0 Z" fill="#4a4aa8" opacity="0.85"/>
<path d="M453.1,300.4 l0.95,-1.7 l-1.9,0 Z" fill="#4a4aa8" opacity="0.85"/>
<path d="M453.4,301.1 l0.95,-1.7 l-1.9,0 Z" fill="#4a4aa8" opacity="0.85"/>
<path d="M453.6,300.2 l0.95,-1.7 l-1.9,0 Z" fill="#4a4aa8" opacity="0.85"/>
<path d="M453.8,299.3 l0.95,-1.7 l-1.9,0 Z" fill="#4a4aa8" opacity="0.85"/>
<path d="M453.0,299.1 l0.95,-1.7 l-1.9,0 Z" fill="#4a4aa8" opacity="0.85"/>
<path d="M454.4,301.8 l0.95,-1.7 l-1.9,0 Z" fill="#4a4aa8" opacity="0.85"/>
<path d="M456.1,303.2 l0.95,-1.7 l-1.9,0 Z" fill="#4a4aa8" opacity="0.85"/>
<path d="M453.4,300.1 l0.95,-1.7 l-1.9,0 Z" fill="#4a4aa8" opacity="0.85"/>
<line x1="443.90" y1="291.30" x2="443.90" y2="301.50" stroke="#1a1a1a" stroke-width="0.5"/>
<line x1="441.20" y1="295.00" x2="446.60" y2="295.00" stroke="#1a1a1a" stroke-width="0.7"/>
<line x1="442.30" y1="291.30" x2="445.50" y2="291.30" stroke="#1a1a1a" stroke-width="0.5"/>
<line x1="453.30" y1="296.50" x2="453.30" y2="302.40" stroke="#1a1a1a" stroke-width="0.5"/>
<line x1="450.40" y1="299.50" x2="456.20" y2="299.50" stroke="#1a1a1a" stroke-width="0.7"/>
<line x1="436.80" y1="323.30" x2="440.40" y2="315.60" stroke="#1a1a1a" stroke-width="0.9"/>
<polygon points="440.40,315.60 440.64,318.39 438.10,317.20" fill="#1a1a1a"/>
<text x="391.5" y="358.6" font-size="10.5" text-anchor="start" fill="#000" font-weight="bold" font-style="normal">J</text>
<polygon points="457,398 436.5,387.2 456.4,378.5" fill="url(#coneJ)"/>
<circle cx="439" cy="370.8" r="17.5" fill="#ffffff" stroke="#9a9a9a" stroke-width="0.8"/>
<g fill="none" stroke-linecap="round"><path d="M463.7,362.3 L449.9,367.6" stroke="#c3c7cd" stroke-width="0.9"/><path d="M445.2,354.6 C445,359 444.8,364 444.6,368.6" stroke="#cf3048" stroke-width="1.2"/><path d="M444.4,368 C441,370 437,371.5 434,373.2 C431,374.8 428.5,376.6 426.8,379.8" stroke="#a0503c" stroke-width="0.85"/><path d="M444.8,368 C447.5,369.8 450.5,371.8 453.2,374" stroke="#5e4a3a" stroke-width="0.9"/><path d="M445,357.2 L441.2,359.6 M445,360.4 L440.2,363.2 M444.9,363.8 L438.4,367.6 M437,357.6 L435.8,359.6 M440.6,355.6 L439.8,357.6 M444.6,368.6 L444.4,373.8" stroke="#c8384a" stroke-width="0.7"/><path d="M445,361 L449,359.4 M445,365 L450.2,363.8 M447.4,369.6 L452.4,368.4 M451.4,372.6 L452.6,375.6" stroke="#5e4a3a" stroke-width="0.7"/><path d="M443.2,366 L440.4,369" stroke="#6f9070" stroke-width="0.8"/><path d="M431.8,379 L432,381" stroke="#5f9a78" stroke-width="0.6"/></g>
<text x="437.9" y="384.6" font-size="6.8" text-anchor="start" fill="#333" font-weight="bold" font-style="normal">IIA</text>
<g transform="translate(453.2,405.8) scale(0.9666666666666666,0.9666666666666666)"><path d="M-7.2,-9.6 C-5.5,-6.5 -3,-4.2 1.6,-4" fill="none" stroke="#b9abaa" stroke-width="0.75" stroke-linecap="round"/><path d="M0.9,-1.8 C0.2,-4.2 1.6,-6.8 4.6,-8 C7.4,-9 10.2,-8.7 12.4,-7.4 C12.8,-8.9 14.4,-9.2 14.9,-7.6 C16.4,-6.8 17.6,-5.6 18.1,-4.5 C17.2,-3.4 15.6,-3 14.2,-2.9 L14.6,-0.3 L13.2,-0.1 L12.6,-2.2 C10.5,-1.6 8,-1.5 6,-1.7 L6.4,-0.1 L3.4,0 L3.2,-1.1 C2.2,-1.1 1.4,-1.3 0.9,-1.8 Z" fill="#878384"/></g>
<text x="402" y="405.2" font-size="7.4" text-anchor="start" fill="#e8212b" font-weight="normal" font-style="normal">DT</text>
<text x="507.8" y="405" font-size="7.6" text-anchor="start" fill="#1a1a1a" font-weight="normal" font-style="normal">BLI</text>
<line x1="406.00" y1="416.40" x2="513.50" y2="416.40" stroke="#1a1a1a" stroke-width="1.4"/>
<polygon points="518.7,416.3 512.5,414.1 512.5,418.5" fill="#1a1a1a"/>
<line x1="407.00" y1="406.80" x2="407.00" y2="414.80" stroke="#e8212b" stroke-width="1.0"/>
<polygon points="407.00,414.80 405.35,411.94 408.65,411.94" fill="#e8212b"/>
<line x1="413.40" y1="406.80" x2="413.40" y2="414.80" stroke="#e8212b" stroke-width="1.0"/>
<polygon points="413.40,414.80 411.75,411.94 415.05,411.94" fill="#e8212b"/>
<line x1="419.80" y1="406.80" x2="419.80" y2="414.80" stroke="#e8212b" stroke-width="1.0"/>
<polygon points="419.80,414.80 418.15,411.94 421.45,411.94" fill="#e8212b"/>
<line x1="460.50" y1="406.80" x2="460.50" y2="414.80" stroke="#1a1a1a" stroke-width="1.0"/>
<polygon points="460.50,414.80 458.85,411.94 462.15,411.94" fill="#1a1a1a"/>
<line x1="469.10" y1="406.80" x2="469.10" y2="414.80" stroke="#1a1a1a" stroke-width="1.0"/>
<polygon points="469.10,414.80 467.45,411.94 470.75,411.94" fill="#1a1a1a"/>
<line x1="477.70" y1="406.80" x2="477.70" y2="414.80" stroke="#1a1a1a" stroke-width="1.0"/>
<polygon points="477.70,414.80 476.05,411.94 479.35,411.94" fill="#1a1a1a"/>
<line x1="496.00" y1="406.80" x2="496.00" y2="414.80" stroke="#1a1a1a" stroke-width="1.0"/>
<polygon points="496.00,414.80 494.35,411.94 497.65,411.94" fill="#1a1a1a"/>
<line x1="513.80" y1="406.80" x2="513.80" y2="414.80" stroke="#1a1a1a" stroke-width="1.0"/>
<polygon points="513.80,414.80 512.15,411.94 515.45,411.94" fill="#1a1a1a"/>
<text x="393.4" y="425.8" font-size="7.6" text-anchor="start" fill="#1a1a1a" font-weight="normal" font-style="normal">d. –10</text>
<text x="460.5" y="425.8" font-size="7.6" text-anchor="middle" fill="#1a1a1a" font-weight="normal" font-style="normal">0</text>
<text x="469.1" y="425.8" font-size="7.6" text-anchor="middle" fill="#1a1a1a" font-weight="normal" font-style="normal">1</text>
<text x="477.7" y="425.8" font-size="7.6" text-anchor="middle" fill="#1a1a1a" font-weight="normal" font-style="normal">2</text>
<text x="496" y="425.8" font-size="7.6" text-anchor="middle" fill="#1a1a1a" font-weight="normal" font-style="normal">4</text>
<text x="513.8" y="425.8" font-size="7.6" text-anchor="middle" fill="#1a1a1a" font-weight="normal" font-style="normal">6</text>
<clipPath id="c689165786"><rect x="412.3" y="432.6" width="99.40000000000003" height="95.39999999999998"/></clipPath>
<g clip-path="url(#c689165786)">
<polyline points="415.40,496.53 430.95,523.91 446.50,523.94 477.60,475.00 508.70,422.21" fill="none" stroke="#f6b6b0" stroke-width="0.95" stroke-linejoin="round" stroke-linecap="round" stroke-dasharray="0.1 2.3"/>
<polyline points="415.40,496.53 430.95,523.83 446.50,523.99 477.60,488.52 508.70,434.60" fill="none" stroke="#f6b6b0" stroke-width="0.95" stroke-linejoin="round" stroke-linecap="round" stroke-dasharray="0.1 2.3"/>
<polyline points="415.40,496.53 430.95,525.48 446.50,525.57 477.60,493.55 508.70,446.99" fill="none" stroke="#f6b6b0" stroke-width="0.95" stroke-linejoin="round" stroke-linecap="round" stroke-dasharray="0.1 2.3"/>
<polyline points="415.40,496.53 430.95,521.91 446.50,523.77 477.60,502.79 508.70,459.37" fill="none" stroke="#f6b6b0" stroke-width="0.95" stroke-linejoin="round" stroke-linecap="round" stroke-dasharray="0.1 2.3"/>
<polyline points="415.40,496.53 430.95,526.04 446.50,525.79 477.60,501.61 508.70,468.66" fill="none" stroke="#f6b6b0" stroke-width="0.95" stroke-linejoin="round" stroke-linecap="round" stroke-dasharray="0.1 2.3"/>
<polyline points="415.40,496.53 430.95,526.32 446.50,525.99 477.60,502.39 508.70,477.95" fill="none" stroke="#f6b6b0" stroke-width="0.95" stroke-linejoin="round" stroke-linecap="round" stroke-dasharray="0.1 2.3"/>
<polyline points="415.40,496.53 430.95,522.72 446.50,522.58 477.60,511.46 508.70,484.15" fill="none" stroke="#f6b6b0" stroke-width="0.95" stroke-linejoin="round" stroke-linecap="round" stroke-dasharray="0.1 2.3"/>
<polyline points="415.40,496.53 430.95,526.48 446.50,526.51 477.60,516.93 508.70,490.34" fill="none" stroke="#f6b6b0" stroke-width="0.95" stroke-linejoin="round" stroke-linecap="round" stroke-dasharray="0.1 2.3"/>
<polyline points="415.40,496.53 430.95,525.45 446.50,525.92 477.60,518.36 508.70,496.53" fill="none" stroke="#f6b6b0" stroke-width="0.95" stroke-linejoin="round" stroke-linecap="round" stroke-dasharray="0.1 2.3"/>
<polyline points="415.40,496.53 430.95,523.84 446.50,524.18 477.60,513.58 508.70,501.18" fill="none" stroke="#f6b6b0" stroke-width="0.95" stroke-linejoin="round" stroke-linecap="round" stroke-dasharray="0.1 2.3"/>
<polyline points="415.40,496.53 430.95,523.52 446.50,523.32 477.60,516.76 508.70,505.82" fill="none" stroke="#f6b6b0" stroke-width="0.95" stroke-linejoin="round" stroke-linecap="round" stroke-dasharray="0.1 2.3"/>
<polyline points="415.40,496.53 430.95,522.67 446.50,523.06 477.60,519.04 508.70,510.47" fill="none" stroke="#f6b6b0" stroke-width="0.95" stroke-linejoin="round" stroke-linecap="round" stroke-dasharray="0.1 2.3"/>
<polyline points="415.40,496.53 430.95,520.70 446.50,518.68 477.60,517.04 508.70,515.11" fill="none" stroke="#f6b6b0" stroke-width="0.95" stroke-linejoin="round" stroke-linecap="round" stroke-dasharray="0.1 2.3"/>
<polyline points="415.40,496.53 430.95,522.41 446.50,523.32 477.60,521.75 508.70,518.21" fill="none" stroke="#f6b6b0" stroke-width="0.95" stroke-linejoin="round" stroke-linecap="round" stroke-dasharray="0.1 2.3"/>
<polyline points="415.40,496.53 430.95,524.87 446.50,525.79 477.60,523.81 508.70,521.31" fill="none" stroke="#f6b6b0" stroke-width="0.95" stroke-linejoin="round" stroke-linecap="round" stroke-dasharray="0.1 2.3"/>
<polyline points="415.40,496.53 430.95,524.22 446.50,523.58 477.60,514.74 508.70,498.08" fill="none" stroke="#bcb9e0" stroke-width="0.95" stroke-linejoin="round" stroke-linecap="round" stroke-dasharray="0.1 2.3"/>
<polyline points="415.40,496.53 430.95,520.93 446.50,519.67 477.60,515.43 508.70,502.73" fill="none" stroke="#bcb9e0" stroke-width="0.95" stroke-linejoin="round" stroke-linecap="round" stroke-dasharray="0.1 2.3"/>
<polyline points="415.40,496.53 430.95,525.34 446.50,524.82 477.60,517.84 508.70,505.82" fill="none" stroke="#bcb9e0" stroke-width="0.95" stroke-linejoin="round" stroke-linecap="round" stroke-dasharray="0.1 2.3"/>
<polyline points="415.40,496.53 430.95,520.80 446.50,521.62 477.60,518.21 508.70,508.92" fill="none" stroke="#bcb9e0" stroke-width="0.95" stroke-linejoin="round" stroke-linecap="round" stroke-dasharray="0.1 2.3"/>
<polyline points="415.40,496.53 430.95,522.87 446.50,522.20 477.60,518.96 508.70,512.02" fill="none" stroke="#bcb9e0" stroke-width="0.95" stroke-linejoin="round" stroke-linecap="round" stroke-dasharray="0.1 2.3"/>
<polyline points="415.40,496.53 430.95,526.06 446.50,526.30 477.60,520.50 508.70,514.49" fill="none" stroke="#bcb9e0" stroke-width="0.95" stroke-linejoin="round" stroke-linecap="round" stroke-dasharray="0.1 2.3"/>
<polyline points="415.40,496.53 430.95,522.11 446.50,523.82 477.60,521.59 508.70,516.66" fill="none" stroke="#bcb9e0" stroke-width="0.95" stroke-linejoin="round" stroke-linecap="round" stroke-dasharray="0.1 2.3"/>
<polyline points="415.40,496.53 430.95,525.98 446.50,526.52 477.60,522.79 508.70,518.21" fill="none" stroke="#bcb9e0" stroke-width="0.95" stroke-linejoin="round" stroke-linecap="round" stroke-dasharray="0.1 2.3"/>
<polyline points="415.40,496.53 430.95,525.53 446.50,525.54 477.60,523.45 508.70,519.76" fill="none" stroke="#bcb9e0" stroke-width="0.95" stroke-linejoin="round" stroke-linecap="round" stroke-dasharray="0.1 2.3"/>
<polyline points="415.40,496.53 430.95,525.45 446.50,525.22 477.60,524.11 508.70,521.31" fill="none" stroke="#bcb9e0" stroke-width="0.95" stroke-linejoin="round" stroke-linecap="round" stroke-dasharray="0.1 2.3"/>
<polyline points="415.40,496.53 430.95,522.78 446.50,524.29 477.60,523.78 508.70,522.86" fill="none" stroke="#bcb9e0" stroke-width="0.95" stroke-linejoin="round" stroke-linecap="round" stroke-dasharray="0.1 2.3"/>
<polyline points="415.40,496.53 430.95,525.32 446.50,525.78 477.60,525.10 508.70,524.40" fill="none" stroke="#bcb9e0" stroke-width="0.95" stroke-linejoin="round" stroke-linecap="round" stroke-dasharray="0.1 2.3"/>
<polyline points="415.40,496.53 430.95,521.84 446.50,522.90 477.60,524.19 508.70,525.64" fill="none" stroke="#bcb9e0" stroke-width="0.95" stroke-linejoin="round" stroke-linecap="round" stroke-dasharray="0.1 2.3"/>
<polyline points="415.40,496.53 430.95,525.33 446.50,525.60 477.60,526.05 508.70,526.57" fill="none" stroke="#bcb9e0" stroke-width="0.95" stroke-linejoin="round" stroke-linecap="round" stroke-dasharray="0.1 2.3"/>
</g>
<line x1="508.70" y1="496.53" x2="508.70" y2="479.19" stroke="#1a1a1a" stroke-width="0.8"/>
<line x1="477.60" y1="518.21" x2="477.60" y2="512.02" stroke="#1a1a1a" stroke-width="0.8"/>
<polyline points="415.40,496.53 430.95,524.71 446.50,525.33 477.60,523.47 508.70,515.73" fill="none" stroke="#3d3fa3" stroke-width="2.3" stroke-linejoin="round" stroke-linecap="round"/>
<circle cx="415.40" cy="496.53" r="1.25" fill="#8a8ad0" stroke="#3d3fa3" stroke-width="0.55"/>
<circle cx="430.95" cy="524.71" r="1.25" fill="#8a8ad0" stroke="#3d3fa3" stroke-width="0.55"/>
<circle cx="446.50" cy="525.33" r="1.25" fill="#8a8ad0" stroke="#3d3fa3" stroke-width="0.55"/>
<circle cx="477.60" cy="523.47" r="1.25" fill="#8a8ad0" stroke="#3d3fa3" stroke-width="0.55"/>
<circle cx="508.70" cy="515.73" r="1.25" fill="#8a8ad0" stroke="#3d3fa3" stroke-width="0.55"/>
<polyline points="415.40,496.53 430.95,524.40 446.50,524.40 477.60,515.11 508.70,488.17" fill="none" stroke="#e8212b" stroke-width="2.3" stroke-linejoin="round" stroke-linecap="round"/>
<circle cx="415.40" cy="496.53" r="1.25" fill="#f8a09c" stroke="#e8212b" stroke-width="0.55"/>
<circle cx="430.95" cy="524.40" r="1.25" fill="#f8a09c" stroke="#e8212b" stroke-width="0.55"/>
<circle cx="446.50" cy="524.40" r="1.25" fill="#f8a09c" stroke="#e8212b" stroke-width="0.55"/>
<circle cx="477.60" cy="515.11" r="1.25" fill="#f8a09c" stroke="#e8212b" stroke-width="0.55"/>
<circle cx="508.70" cy="488.17" r="1.25" fill="#f8a09c" stroke="#e8212b" stroke-width="0.55"/>
<line x1="412.30" y1="434.10" x2="412.30" y2="528.00" stroke="#1a1a1a" stroke-width="1.1"/>
<line x1="411.80" y1="527.50" x2="510.00" y2="527.50" stroke="#1a1a1a" stroke-width="1.1"/>
<line x1="410.10" y1="527.50" x2="412.30" y2="527.50" stroke="#1a1a1a" stroke-width="0.9"/>
<text x="409.7" y="530.308" font-size="7.8" text-anchor="end" fill="#1a1a1a" font-weight="normal" font-style="normal">0</text>
<line x1="410.10" y1="496.53" x2="412.30" y2="496.53" stroke="#1a1a1a" stroke-width="0.9"/>
<text x="409.7" y="499.34133333333335" font-size="7.8" text-anchor="end" fill="#1a1a1a" font-weight="normal" font-style="normal">1</text>
<line x1="410.10" y1="465.57" x2="412.30" y2="465.57" stroke="#1a1a1a" stroke-width="0.9"/>
<text x="409.7" y="468.37466666666666" font-size="7.8" text-anchor="end" fill="#1a1a1a" font-weight="normal" font-style="normal">2</text>
<line x1="410.10" y1="434.60" x2="412.30" y2="434.60" stroke="#1a1a1a" stroke-width="0.9"/>
<text x="409.7" y="437.408" font-size="7.8" text-anchor="end" fill="#1a1a1a" font-weight="normal" font-style="normal">3</text>
<line x1="415.40" y1="527.50" x2="415.40" y2="529.90" stroke="#1a1a1a" stroke-width="0.9"/>
<text x="415.40000000000003" y="537.4" font-size="7.8" text-anchor="middle" fill="#1a1a1a" font-weight="normal" font-style="normal">0</text>
<line x1="430.95" y1="527.50" x2="430.95" y2="529.90" stroke="#1a1a1a" stroke-width="0.9"/>
<text x="430.95000000000005" y="537.4" font-size="7.8" text-anchor="middle" fill="#1a1a1a" font-weight="normal" font-style="normal">1</text>
<line x1="446.50" y1="527.50" x2="446.50" y2="529.90" stroke="#1a1a1a" stroke-width="0.9"/>
<text x="446.50000000000006" y="537.4" font-size="7.8" text-anchor="middle" fill="#1a1a1a" font-weight="normal" font-style="normal">2</text>
<line x1="462.05" y1="527.50" x2="462.05" y2="529.90" stroke="#1a1a1a" stroke-width="0.9"/>
<text x="462.05000000000007" y="537.4" font-size="7.8" text-anchor="middle" fill="#1a1a1a" font-weight="normal" font-style="normal">3</text>
<line x1="477.60" y1="527.50" x2="477.60" y2="529.90" stroke="#1a1a1a" stroke-width="0.9"/>
<text x="477.6" y="537.4" font-size="7.8" text-anchor="middle" fill="#1a1a1a" font-weight="normal" font-style="normal">4</text>
<line x1="493.15" y1="527.50" x2="493.15" y2="529.90" stroke="#1a1a1a" stroke-width="0.9"/>
<text x="493.15000000000003" y="537.4" font-size="7.8" text-anchor="middle" fill="#1a1a1a" font-weight="normal" font-style="normal">5</text>
<line x1="508.70" y1="527.50" x2="508.70" y2="529.90" stroke="#1a1a1a" stroke-width="0.9"/>
<text x="508.70000000000005" y="537.4" font-size="7.8" text-anchor="middle" fill="#1a1a1a" font-weight="normal" font-style="normal">6</text>
<text x="403.5" y="537.3" font-size="7.5" text-anchor="middle" fill="#1a1a1a" font-weight="normal" font-style="normal">d.</text>
<text x="401" y="480.8" font-size="7.4" text-anchor="middle" fill="#1a1a1a" font-weight="normal" font-style="normal" transform="rotate(-90 401 480.8)">Normalized BLI increase</text>
<line x1="417.60" y1="443.70" x2="427.00" y2="443.70" stroke="#f28b86" stroke-width="1.4"/>
<circle cx="422.4" cy="443.7" r="1.6" fill="#f6c6c2" stroke="#f28b86" stroke-width="0.7"/>
<text x="428.6" y="446.5" font-size="7.8" text-anchor="start" fill="#1a1a1a" font-weight="normal" font-style="normal">NG2<tspan dy="-2.5" font-size="6.4">WT</tspan><tspan dy="2.5" font-size="7.8">&#8203;</tspan> <tspan font-style="italic">n</tspan> = 15</text>
<line x1="417.60" y1="454.80" x2="427.00" y2="454.80" stroke="#3d3fa3" stroke-width="1.4"/>
<circle cx="422.4" cy="454.8" r="1.6" fill="#5b5bb5" stroke="#3d3fa3" stroke-width="0.7"/>
<text x="428.6" y="457.6" font-size="7.8" text-anchor="start" fill="#1a1a1a" font-weight="normal" font-style="normal">NG2<tspan dy="-2.5" font-size="6.4">Dep</tspan><tspan dy="2.5" font-size="7.8">&#8203;</tspan> <tspan font-style="italic">n</tspan> = 14</text>
<text x="484.8" y="451.2" font-size="7.3" text-anchor="start" fill="#1a1a1a" font-weight="normal" font-style="normal"><tspan font-style="italic">P</tspan> = 0.007</text>
</svg>
</body></html>
